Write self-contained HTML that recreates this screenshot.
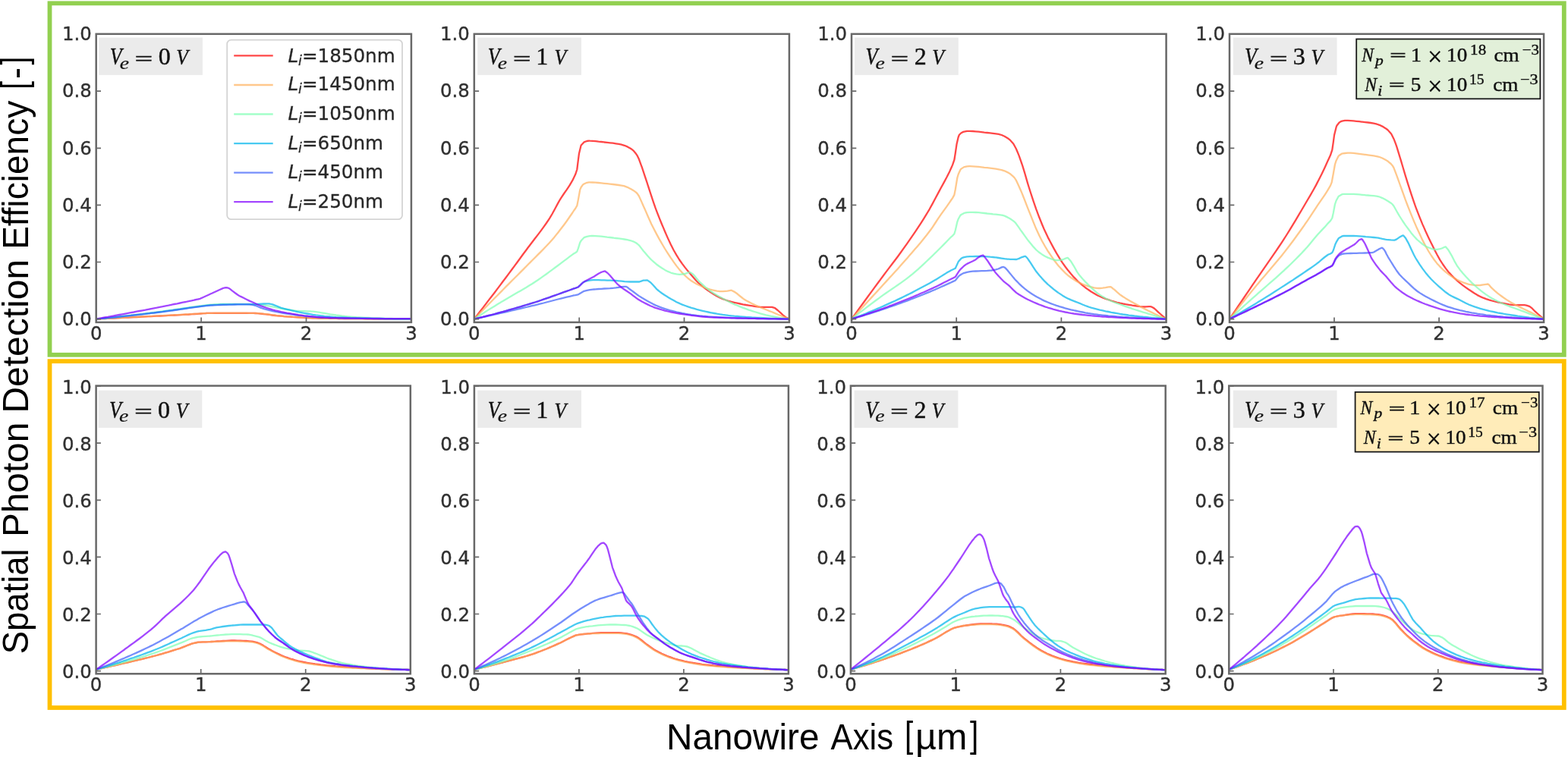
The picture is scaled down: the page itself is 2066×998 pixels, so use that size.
<!DOCTYPE html>
<html lang="en"><head><meta charset="utf-8"><title>Spatial Photon Detection Efficiency</title>
<style>html,body{margin:0;padding:0;background:#fff;}body{width:2066px;height:998px;overflow:hidden;}svg{display:block;}.tk{font-family:"DejaVu Sans","Liberation Sans",sans-serif;font-size:24.4px;fill:#303030;stroke:#3a3a3a;stroke-width:0.4px;}.lg{font-family:"DejaVu Sans","Liberation Sans",sans-serif;font-size:24.6px;fill:#262626;stroke:#3a3a3a;stroke-width:0.35px;}.ttl{font-family:"Liberation Sans","DejaVu Sans",sans-serif;fill:#000;}</style></head><body>
<svg width="2066" height="998" viewBox="0 0 2066 998" role="img" aria-label="Spatial photon detection efficiency along the nanowire axis">
<rect x="0" y="0" width="2066" height="998" fill="#ffffff"/>
<rect x="65.5" y="4.3" width="1995.3" height="463.5" fill="none" stroke="#92d050" stroke-width="5.8"/>
<rect x="65.5" y="476.2" width="1995.3" height="456.8" fill="none" stroke="#ffc000" stroke-width="5.8"/>
<g>
<g fill="none" stroke-width="2.30" stroke-linejoin="round" stroke-opacity="0.72">
<path d="M126.7,420.6L130.5,420.4 134.3,420.2 138.1,420 141.9,419.9 145.7,419.7 149.6,419.5 153.4,419.3 157.2,419.1 161,418.9 164.8,418.7 168.6,418.6 172.4,418.4 176.2,418.2 180,418 183.8,417.8 187.6,417.6 191.5,417.4 195.3,417.2 197.1,417.1 199.1,417.1 202.9,416.9 206.7,416.7 210.5,416.5 214.3,416.3 218.1,416.1 221.9,415.9 225.7,415.7 227.5,415.6 229.5,415.5 233.4,415.3 237.2,415.1 241,414.9 244.8,414.7 248.6,414.5 252.4,414.2 256.2,414 260,413.8 262.7,413.6 263.8,413.5 267.6,413.2 271.4,413 272.7,412.9 275.3,412.9 279.1,412.9 282.9,412.9 286.7,412.9 290.5,412.9 294.3,412.9 298.1,412.9 301.9,412.9 305.7,412.9 306.6,412.9 309.5,412.9 313.3,412.9 317.2,412.9 321,412.9 324.8,412.9 328.6,412.9 332.4,412.9 334.1,412.9 336.2,413 340,413.2 343.8,413.6 347.6,414 349.2,414.1 351.4,414.4 355.3,414.9 359.1,415.5 362.9,416 364.3,416.2 366.7,416.4 370.5,416.7 374.3,417.1 378.1,417.4 381.9,417.6 384.5,417.8 385.7,417.9 389.5,418.1 393.3,418.3 397.2,418.6 401,418.8 404.8,419 408.6,419.1 412.4,419.3 414.6,419.3 416.2,419.4 420,419.5 423.8,419.5 427.6,419.6 431.4,419.7 435.2,419.8 439.1,419.8 442.9,419.9 446.7,420 450.5,420 454.3,420.1 458.1,420.1 461.9,420.2 465.7,420.2 469.5,420.2 472.7,420.2 473.3,420.2 477.1,420.2 481,420.3 484.8,420.3 488.6,420.3 492.4,420.3 496.2,420.3 500,420.3 503.8,420.3 507.6,420.4 511.4,420.4 515.2,420.4 519,420.4 522.9,420.4 526.7,420.4 530.5,420.4 534.3,420.4 538.1,420.4 541.9,420.4" stroke="#ff0000"/>
<path d="M126.7,420.6L130.5,420.4 134.3,420.2 138.1,420 141.9,419.8 145.7,419.6 149.6,419.4 153.4,419.2 157.2,419 161,418.8 164.8,418.6 168.6,418.4 172.4,418.2 176.2,418.1 180,417.9 183.8,417.7 187.6,417.5 191.5,417.3 195.3,417.1 197.1,417 199.1,416.9 202.9,416.7 206.7,416.5 210.5,416.3 214.3,416.2 218.1,416 221.9,415.8 225.7,415.6 227.5,415.5 229.5,415.4 233.4,415.2 237.2,415 241,414.8 244.8,414.5 248.6,414.3 252.4,414.1 256.2,413.9 260,413.6 262.7,413.5 263.8,413.4 267.6,413.1 271.4,412.8 272.7,412.8 275.3,412.8 279.1,412.8 282.9,412.7 286.7,412.7 290.5,412.7 294.3,412.7 298.1,412.7 301.9,412.7 305.7,412.7 306.6,412.7 309.5,412.7 313.3,412.7 317.2,412.7 321,412.7 324.8,412.7 328.6,412.8 332.4,412.8 334.1,412.8 336.2,412.8 340,413.1 343.8,413.4 347.6,413.8 349.2,414 351.4,414.2 355.3,414.8 359.1,415.3 362.9,415.9 364.3,416 366.7,416.3 370.5,416.6 374.3,417 378.1,417.3 381.9,417.5 384.5,417.7 385.7,417.8 389.5,418 393.3,418.3 397.2,418.5 401,418.7 404.8,418.9 408.6,419.1 412.4,419.2 414.6,419.2 416.2,419.3 420,419.4 423.8,419.5 427.6,419.5 431.4,419.6 435.2,419.7 439.1,419.8 442.9,419.8 446.7,419.9 450.5,419.9 454.3,420 458.1,420 461.9,420.1 465.7,420.1 469.5,420.1 472.7,420.1 473.3,420.2 477.1,420.2 481,420.2 484.8,420.2 488.6,420.2 492.4,420.3 496.2,420.3 500,420.3 503.8,420.3 507.6,420.3 511.4,420.4 515.2,420.4 519,420.4 522.9,420.4 526.7,420.4 530.5,420.4 534.3,420.4 538.1,420.4 541.9,420.4" stroke="#ffb360"/>
<path d="M126.7,420.6L130.5,420.2 134.3,419.9 138.1,419.5 141.9,419.1 145.7,418.7 149.6,418.3 153.4,417.9 157.2,417.5 161,417 164.8,416.6 168.6,416.2 172.4,415.7 176.2,415.3 180,414.8 183.8,414.3 187.6,413.9 191.5,413.4 195.3,412.9 197.1,412.7 199.1,412.5 202.9,412 206.7,411.5 210.5,411 214.3,410.4 218.1,409.9 221.9,409.4 225.7,408.8 227.5,408.6 229.5,408.3 233.4,407.7 237.2,407.2 241,406.6 244.8,406.1 248.6,405.5 252.4,404.9 256.2,404.4 260,403.9 262.7,403.5 263.8,403.4 267.6,402.8 271.4,402.3 275.3,401.8 277.8,401.6 279.1,401.6 282.9,401.4 286.7,401.2 290.5,401 294.3,400.9 297.9,400.9 298.1,400.9 301.9,400.9 305.7,400.9 309.5,400.9 313.3,400.9 317.2,400.9 321,400.9 323.2,400.9 324.8,400.9 328.6,401 332.4,401.2 336.2,401.5 340,401.7 341.2,401.8 343.8,402.1 347.6,402.5 351.4,403 354.2,403.4 355.3,403.6 359.1,404.3 362.9,405.1 366.7,405.9 370.5,406.8 374.3,407.4 374.4,407.5 378.1,408 381.9,408.6 385.7,409.1 389.5,409.6 393.3,409.9 394.5,410 397.2,410.1 401,410.2 404.8,410.3 408.6,410.4 409.6,410.5 412.4,410.7 416.2,411.2 419.7,411.7 420,411.7 423.8,412.3 427.6,413 431.4,413.7 434.8,414.3 435.2,414.4 439.1,414.9 442.9,415.5 446.7,416 450.5,416.5 454.3,416.9 455,417 458.1,417.3 461.9,417.6 465.7,417.9 469.5,418.2 473.3,418.4 477.1,418.6 481,418.8 484.8,419 485.2,419 488.6,419.2 492.4,419.3 496.2,419.4 500,419.6 503.8,419.7 507.6,419.8 511.4,419.9 515.2,420 519,420.1 522.9,420.2 526.7,420.3 530.5,420.3 534.3,420.4 538.1,420.4 541.9,420.4" stroke="#80ffb4"/>
<path d="M126.7,420.6L130.5,420.2 134.3,419.9 138.1,419.5 141.9,419.1 145.7,418.8 149.6,418.4 153.4,418 157.2,417.6 161,417.2 164.8,416.7 168.6,416.3 172.4,415.9 176.2,415.4 180,415 183.8,414.6 187.6,414.1 191.5,413.7 195.3,413.2 197.1,413 199.1,412.7 202.9,412.3 206.7,411.8 210.5,411.3 214.3,410.8 218.1,410.2 221.9,409.7 225.7,409.2 227.5,409 229.5,408.7 233.4,408.1 237.2,407.6 241,407 244.8,406.4 248.6,405.9 252.4,405.3 256.2,404.8 260,404.3 262.7,403.9 263.8,403.8 267.6,403.3 271.4,402.8 275.3,402.4 277.8,402.2 279.1,402.1 282.9,401.9 286.7,401.8 290.5,401.6 294.3,401.5 297.9,401.4 298.1,401.4 301.9,401.4 305.7,401.3 309.5,401.2 313.3,401.2 317.2,401.1 321,401.1 323.2,401.1 324.8,401.1 328.6,401.2 332.4,401.2 334.1,401.3 336.2,401.2 340,400.9 343.8,400.6 344.1,400.6 347.6,400.5 351.4,400.4 354.2,400.4 355.3,400.5 359.1,401.4 359.2,401.4 362.9,402.8 366.7,404.4 369.3,405.4 370.5,405.8 374.3,406.9 378.1,407.8 381.9,408.7 384.5,409.3 385.7,409.6 389.5,410.5 393.3,411.3 397.2,412.1 401,412.8 404.6,413.5 404.8,413.5 408.6,414.1 412.4,414.8 416.2,415.4 420,415.9 423.8,416.4 424.8,416.5 427.6,416.8 431.4,417.1 435.2,417.5 439.1,417.8 442.9,418.1 446.7,418.3 450.5,418.5 454.3,418.7 455,418.7 458.1,418.8 461.9,419 465.7,419.1 469.5,419.2 473.3,419.3 477.1,419.4 481,419.5 484.8,419.6 488.6,419.7 492.4,419.8 496.2,419.9 500,420 503.8,420 507.6,420.1 511.4,420.2 515.2,420.2 519,420.3 522.9,420.3 526.7,420.3 530.5,420.4 534.3,420.4 538.1,420.4 541.9,420.4" stroke="#00b5eb"/>
<path d="M126.7,420.6L130.5,420.2 134.3,419.9 138.1,419.5 141.9,419.2 145.7,418.8 149.6,418.4 153.4,418 157.2,417.6 161,417.2 164.8,416.8 168.6,416.4 172.4,416 176.2,415.5 180,415.1 183.8,414.7 187.6,414.3 191.5,413.8 195.3,413.4 197.1,413.2 199.1,412.9 202.9,412.5 206.7,412 210.5,411.5 214.3,411.1 218.1,410.6 221.9,410.1 225.7,409.6 227.5,409.3 229.5,409 233.4,408.5 237.2,407.9 241,407.4 244.8,406.8 248.6,406.2 252.4,405.7 256.2,405.1 260,404.6 262.7,404.3 263.8,404.1 267.6,403.6 271.4,403.2 275.3,402.8 277.8,402.6 279.1,402.5 282.9,402.3 286.7,402.2 290.5,402 294.3,401.9 297.9,401.8 298.1,401.8 301.9,401.7 305.7,401.6 309.5,401.5 313.3,401.4 317.2,401.3 321,401.3 323.2,401.3 324.8,401.3 328.6,401.4 328.8,401.4 332.4,401.9 334.9,402.4 336.2,402.8 340,404.3 343.8,405.9 344.1,406 347.6,407.1 351.4,408.2 354.2,409 355.3,409.2 359.1,410.1 362.9,410.9 366.7,411.6 370.5,412.3 374.3,413 374.4,413 378.1,413.6 381.9,414.2 385.7,414.7 389.5,415.3 393.3,415.8 397.2,416.2 401,416.6 404.6,417 404.8,417 408.6,417.3 412.4,417.7 416.2,418 420,418.3 423.8,418.5 427.6,418.7 431.4,418.9 434.8,419 435.2,419 439.1,419.1 442.9,419.2 446.7,419.3 450.5,419.4 454.3,419.5 458.1,419.5 461.9,419.6 465.7,419.7 469.5,419.8 473.3,419.8 477.1,419.9 481,419.9 484.8,420 488.6,420.1 492.4,420.1 496.2,420.1 500,420.2 503.8,420.2 507.6,420.3 511.4,420.3 515.2,420.3 519,420.3 522.9,420.4 526.7,420.4 530.5,420.4 534.3,420.4 538.1,420.4 541.9,420.4" stroke="#4062fa"/>
<path d="M126.7,420.6L130.5,419.9 134.3,419.2 138.1,418.5 141.9,417.9 145.7,417.2 149.6,416.5 153.4,415.7 157.2,415 161,414.3 164.8,413.6 168.6,412.9 172.4,412.2 176.2,411.5 180,410.7 183.8,410 187.6,409.3 191.5,408.6 195.3,407.8 197.1,407.5 199.1,407.1 202.9,406.3 206.7,405.6 210.5,404.8 214.3,404.1 218.1,403.3 221.9,402.6 225.7,401.8 227.5,401.4 229.5,401 233.4,400.3 237.2,399.5 241,398.7 244.8,398 247.5,397.4 248.6,397.2 252.4,396.4 256.2,395.5 260,394.7 260.9,394.5 262.7,394.2 263.8,393.7 264.5,393.4 267.6,392 271.4,390.3 275.3,388.5 277.8,387.3 279.1,386.8 282.9,385 286.7,383.2 290.5,381.5 291.4,381.1 294.3,379.8 294.9,379.7 297.9,379.1 298.1,379.1 300.8,379.7 301.9,380.2 303.9,381.7 305.7,383.1 308,384.8 309.5,386 313.3,388.8 314.9,389.8 317,390.9 317.2,390.9 321,392.8 324.8,394.7 328.2,396.4 328.6,396.6 332.4,398.3 334.9,399.4 336.2,400 340,401.7 343.8,403.3 344.1,403.4 347.6,404.7 351.4,406 354.2,406.9 355.3,407.2 359.1,408.4 362.9,409.4 364.3,409.7 366.7,410.2 370.5,411.1 374.3,411.8 378.1,412.6 381.9,413.2 384.5,413.7 385.7,413.9 389.5,414.5 393.3,415.2 397.2,415.7 401,416.3 404.6,416.7 404.8,416.7 408.6,417.1 412.4,417.5 416.2,417.9 420,418.2 423.8,418.5 424.8,418.5 427.6,418.7 431.4,418.8 435.2,419 439.1,419.1 442.9,419.2 446.7,419.3 450.5,419.4 454.3,419.5 455,419.5 458.1,419.5 461.9,419.6 465.7,419.6 469.5,419.7 473.3,419.7 477.1,419.8 481,419.8 484.8,419.9 488.6,419.9 492.4,420 496.2,420 500,420 503.8,420.1 507.6,420.1 511.4,420.1 515.2,420.1 519,420.2 522.9,420.2 526.7,420.2 530.5,420.2 534.3,420.2 538.1,420.2 541.9,420.2" stroke="#8000ff"/>
</g>
<path d="M265.1,424.9 v-6.3 M403.5,424.9 v-6.3 M126.7,420.6 h6.3 M126.7,345.5 h6.3 M126.7,270.4 h6.3 M126.7,195.3 h6.3 M126.7,120.2 h6.3 M126.7,45.1 h6.3" stroke="#686868" stroke-width="1.7" fill="none"/>
<rect x="126.7" y="44.8" width="415.2" height="380.1" fill="none" stroke="#686868" stroke-width="2.5"/>
<text class="tk" x="120.8" y="428.8" text-anchor="end">0.0</text>
<text class="tk" x="120.8" y="353.7" text-anchor="end">0.2</text>
<text class="tk" x="120.8" y="278.6" text-anchor="end">0.4</text>
<text class="tk" x="120.8" y="203.5" text-anchor="end">0.6</text>
<text class="tk" x="120.8" y="128.4" text-anchor="end">0.8</text>
<text class="tk" x="120.8" y="53.3" text-anchor="end">1.0</text>
<text class="tk" x="126.7" y="448.0" text-anchor="middle">0</text>
<text class="tk" x="265.1" y="448.0" text-anchor="middle">1</text>
<text class="tk" x="403.5" y="448.0" text-anchor="middle">2</text>
<text class="tk" x="541.9" y="448.0" text-anchor="middle">3</text>
</g>
<g>
<g fill="none" stroke-width="2.30" stroke-linejoin="round" stroke-opacity="0.72">
<path d="M624.8,420.6L628.6,415.7 632.4,410.8 636.2,405.9 640,400.9 643.8,395.9 647.6,391 651.5,386 655.3,380.9 659.1,375.9 661.6,372.5 662.9,370.8 666.7,365.8 670.5,360.6 674.3,355.5 678.1,350.4 681.9,345.2 685.7,340 689.5,334.8 693.3,329.7 695.8,326.3 697.2,324.5 701,319.5 704.8,314.5 708.6,309.6 712.4,304.6 716.2,299.4 720,294 723.8,288.3 724.7,286.9 727.6,282 731.4,275 735.2,267.9 737.8,263.3 739,261.3 742.9,255.5 746.7,250.1 750.5,244.4 754.3,237.9 756.2,234 758.1,230.1 760.3,223.5 761.9,210.6 762.9,202.8 765.5,191.9 765.7,191.6 769.5,187.4 769.5,187.4 773.3,186 776,185.6 777.1,185.7 780.9,185.8 784.7,186.1 788.6,186.6 792.4,187 795.8,187.4 796.2,187.5 800,187.9 803.8,188.3 807.6,188.7 811.4,189.3 815.2,189.9 819,190.7 819.5,190.8 822.8,191.8 826.6,193.4 830.4,195.5 831.9,196.4 834.3,198.3 838.1,202.8 839.8,205.4 841.9,209.8 845.1,218.6 845.7,220.2 849.5,231.6 853,242.2 853.3,243.2 857.1,254.9 860.9,266.4 863.6,274.2 864.7,277.1 868.5,286.9 872.3,296.2 874.1,300.4 876.1,305.2 880,314.1 883.8,322.3 884.7,324.1 887.6,329.7 891.4,336.4 895.2,342.5 895.2,342.5 899,347.9 902.8,352.9 906.6,357.6 908.5,359.8 910.4,362.1 914.2,366.5 918,370.7 921.6,374.2 921.8,374.4 925.7,377.6 929.5,380.6 933.3,383.4 937.1,385.9 937.4,386.1 940.9,388.2 944.7,390.4 948.5,392.4 952.3,394.1 953.1,394.4 956.1,395.5 959.9,396.8 963.7,397.9 967.5,398.8 969.1,399.2 971.4,399.7 975.2,400.5 979,401.3 982.8,402 986.6,402.6 990.1,403.1 990.4,403.2 994.2,403.8 998,404.3 1001.8,404.8 1005.6,405 1005.9,405 1009.4,404.9 1013.2,404.9 1016.4,404.8 1017.1,404.9 1020.4,405.8 1020.9,406 1024.7,409 1026.9,411 1028.5,412.4 1032.3,416 1036.1,418.9 1036.2,418.9 1039.9,420.6" stroke="#ff0000"/>
<path d="M624.8,420.6L628.6,416.7 632.4,412.8 636.2,408.9 640,405 643.8,401.1 647.6,397.2 651.5,393.3 655.3,389.5 659.1,385.6 661.6,383.1 662.9,381.8 666.7,377.9 670.5,374.1 674.3,370.3 678.1,366.5 681.9,362.7 685.7,358.9 689.5,355.1 693.3,351.2 697.2,347.3 698.4,346.1 701,343.5 704.8,339.7 708.6,335.9 712.4,332.1 716.2,328.2 720,324.3 723.8,320.2 727.6,315.9 730,313.2 731.4,311.4 735.2,306.7 739,301.8 742.9,296.7 746.7,291.5 750.5,286 754.3,280.5 756.2,277.5 758.1,275 760.3,271.2 761.9,263.1 764.3,249.9 765.7,246.7 768.1,243.4 769.5,242.5 773.3,240.8 776,240.4 777.1,240.4 780.9,240.5 784.7,240.7 788.6,241 792.4,241.4 796.2,241.8 800,242.2 803.7,242.6 803.8,242.6 807.6,243 811.4,243.5 815.2,244 819,244.6 822.1,245.2 822.8,245.4 826.6,246.8 830.4,248.7 831.9,249.5 834.3,250.9 838.1,253.6 839.8,255.4 841.9,258.5 845.7,266.9 847.7,271.5 849.5,275.4 853.3,284.2 857.1,292.8 858.2,295.2 860.9,300.6 864.7,307.9 868.5,314.9 871.5,320.1 872.3,321.5 876.1,328 880,334.1 883.8,339.9 884.7,341.2 887.6,345.4 891.4,350.6 895.2,355.4 897.8,358.3 899,359.6 902.8,363.5 906.6,367 910.4,369.9 910.9,370.3 914.2,372.3 918,374.4 921.8,376.3 924.2,377.3 925.7,377.9 929.5,379.5 933.3,380.9 937.1,382 937.4,382 940.9,382.8 944.7,383.6 948.5,384.1 950.5,384.2 952.3,384.1 956.1,383.8 958.4,383.6 959.9,383.3 963.7,382.7 963.7,382.7 967.5,384.6 967.7,384.7 971.4,387.3 975.2,390.5 979,393.5 979.6,393.9 982.8,395.9 986.6,398 990.4,400 994.2,401.8 995.3,402.4 998,403.6 1001.8,405.2 1005.6,406.7 1009.4,408.2 1013.2,409.8 1016.4,411 1017.1,411.3 1020.9,412.9 1024.7,414.5 1028.5,416 1032.3,417.6 1032.3,417.6 1036.1,419.1 1039.9,420.6" stroke="#ffb360"/>
<path d="M624.8,420.6L628.6,418.1 632.4,415.7 636.2,413.3 640,410.8 643.8,408.4 647.6,406.1 651.5,403.7 655.3,401.3 659.1,399 661.6,397.4 662.9,396.7 666.7,394.4 670.5,392.2 674.3,390 678.1,387.8 681.9,385.6 685.7,383.4 689.5,381.2 693.3,379 697.2,376.6 701,374.3 703.7,372.5 704.8,371.8 708.6,369.3 712.4,366.6 716.2,363.9 720,361.2 723.8,358.4 727.6,355.6 731.4,352.8 735.2,350 735.2,350 739,347.1 742.9,344.2 746.7,341.3 750.5,338.4 754.3,335.6 756.2,334.2 758.1,333.2 760.3,331.6 761.9,327.4 764.3,319.7 765.7,317.3 769.5,313.2 769.5,313.2 773.3,311.9 777.1,311.2 779.8,311 780.9,311 784.7,311.2 788.6,311.4 792.4,311.7 796.2,312.1 800,312.6 803.8,313 807.6,313.5 808.8,313.7 811.4,314 815.2,314.4 819,314.9 822.8,315.5 826.6,316.2 830.4,317.1 831.9,317.5 834.3,318.3 838.1,320.3 839.8,321.5 841.9,323.3 845.7,328.1 847.7,330.7 849.5,332.7 853.3,337.2 857.1,341.4 858.2,342.5 860.9,344.9 864.7,348.2 868.5,351 871.5,353 872.3,353.5 876.1,355.9 880,357.9 883.8,359.5 884.7,359.8 887.6,360.6 891.4,361.4 895.2,361.8 895.2,361.8 899,361.5 902.8,360.9 903.1,360.9 906.6,359.3 908.5,358.9 910.4,359.6 912.3,360.9 914.2,362.6 918,367.2 921.6,371.4 921.8,371.7 925.7,375.2 929.5,378.6 933.3,381.7 937.1,384.5 937.4,384.7 940.9,387 944.7,389.3 948.5,391.4 952.3,393.5 953.1,393.9 956.1,395.5 959.9,397.5 963.7,399.4 967.5,401.2 969.1,401.8 971.4,402.8 975.2,404.4 979,405.8 982.8,407.2 986.6,408.6 990.1,409.7 990.4,409.8 994.2,411 998,412.2 1001.8,413.3 1005.6,414.3 1009.4,415.3 1013.2,416.2 1016.4,416.8 1017.1,417 1020.9,417.7 1024.7,418.4 1028.5,419.1 1032.3,419.6 1036.1,420.2 1039.9,420.6" stroke="#80ffb4"/>
<path d="M624.8,420.6L628.6,419.7 632.4,418.8 636.2,417.9 640,416.9 643.8,415.9 647.6,415 651.5,414 655.3,412.9 659.1,411.9 662.9,410.9 666.7,409.8 670.5,408.7 674.3,407.6 678.1,406.5 681.9,405.4 685.7,404.3 689.5,403.1 693.3,402 697.2,400.8 701,399.7 703.7,398.8 704.8,398.5 708.6,397.3 712.4,396 716.2,394.7 720,393.4 723.8,392.1 727.6,390.7 731.4,389.3 735.2,388 739,386.6 742.9,385.2 746.7,383.8 750.5,382.5 754.3,381.1 756.2,380.4 758.1,379.8 761.6,378.5 761.9,378.4 765.7,374.7 768.1,372.5 769.5,371.7 772.2,370.7 773.3,370.4 777.1,369.6 780.9,369.2 782.5,369.2 784.7,369.2 788.6,369.2 792.4,369.3 796.2,369.4 800,369.6 803.8,369.7 807.6,369.9 808.8,369.9 811.4,370 815.2,370.3 819,370.7 822.8,371.1 826.6,371.3 830.4,371.5 831.9,371.5 834.3,371.5 838.1,371.5 841.9,371.5 842.5,371.5 845.7,370.3 847.7,369.7 849.5,369.6 853,369.5 853.3,369.6 857,372.2 857.1,372.3 860.9,376.2 864.7,380.6 866.2,382 868.5,383.9 872.3,386.7 876.1,389.3 879.4,391.3 880,391.7 883.8,394 887.6,396.1 891.4,398.2 895.2,399.9 895.2,400 899,401.6 902.8,403 906.6,404.4 910.4,405.6 910.9,405.8 914.2,406.7 918,407.8 921.8,408.8 925.7,409.8 929.5,410.7 933.3,411.5 937.1,412.3 937.4,412.3 940.9,413 944.7,413.7 948.5,414.3 952.3,414.9 956.1,415.4 959.9,415.9 963.7,416.3 963.7,416.3 967.5,416.7 971.4,417 975.2,417.3 979,417.6 982.8,417.9 986.6,418.1 990.1,418.3 990.4,418.4 994.2,418.6 998,418.8 1001.8,419 1005.6,419.2 1009.4,419.4 1013.2,419.6 1017.1,419.8 1020.9,419.9 1024.7,420.1 1028.5,420.2 1032.3,420.4 1036.1,420.5 1039.9,420.6" stroke="#00b5eb"/>
<path d="M624.8,420.6L628.6,419.8 632.4,418.9 636.2,418.1 640,417.3 643.8,416.4 647.6,415.6 651.5,414.7 655.3,413.9 659.1,413 662.9,412.1 666.7,411.3 670.5,410.4 674.3,409.5 678.1,408.6 681.9,407.7 685.7,406.8 689.5,405.9 693.3,405 697.2,404.1 701,403.2 703.7,402.6 704.8,402.3 708.6,401.4 712.4,400.4 716.2,399.5 720,398.5 723.8,397.5 727.6,396.5 731.4,395.5 735.2,394.5 739,393.6 742.9,392.6 746.7,391.7 750.5,390.8 754.3,389.9 756.2,389.4 758.1,389.1 761.6,388.3 761.9,388.2 765.7,386 769.5,383.8 769.5,383.8 773.3,382.9 777.1,382.2 780.9,381.7 782.5,381.5 784.7,381.3 788.6,381 792.4,380.8 796.2,380.5 800,380.3 803.8,380.1 807.6,379.8 808.8,379.7 811.4,379.4 815.2,378.8 819,378.2 822.8,377.8 824.7,377.8 826.6,378.7 828.6,380.4 830.4,381.7 832.4,383.1 834.3,384.5 838.1,387.4 839.8,388.7 841.9,390.1 845.7,392.5 849.5,394.7 850.3,395.2 853.3,396.9 857.1,399.1 860.9,401.1 863.6,402.4 864.7,402.8 868.5,404.4 872.3,405.8 876.1,407.2 880,408.4 883.8,409.5 884.7,409.7 887.6,410.4 891.4,411.4 895.2,412.2 899,413 902.8,413.7 906.6,414.3 910.4,414.9 910.9,415 914.2,415.4 918,415.9 921.8,416.3 925.7,416.7 929.5,417 933.3,417.3 937.1,417.6 937.4,417.6 940.9,417.8 944.7,418 948.5,418.2 952.3,418.4 956.1,418.6 959.9,418.8 963.7,419 967.5,419.1 971.4,419.3 975.2,419.4 979,419.6 982.8,419.7 986.6,419.8 990.1,419.8 990.4,419.9 994.2,419.9 998,420 1001.8,420.1 1005.6,420.2 1009.4,420.3 1013.2,420.3 1017.1,420.4 1020.9,420.4 1024.7,420.5 1028.5,420.5 1032.3,420.6 1036.1,420.6 1039.9,420.6" stroke="#4062fa"/>
<path d="M624.8,420.6L628.6,419.7 632.4,418.8 636.2,417.9 640,416.9 643.8,415.9 647.6,415 651.5,414 655.3,412.9 659.1,411.9 662.9,410.9 666.7,409.8 670.5,408.7 674.3,407.6 678.1,406.5 681.9,405.4 685.7,404.3 689.5,403.1 693.3,402 697.2,400.8 701,399.7 703.7,398.8 704.8,398.5 708.6,397.3 712.4,396 716.2,394.7 720,393.4 723.8,392.1 727.6,390.7 731.4,389.3 735.2,388 739,386.6 742.9,385.2 746.7,383.8 750.5,382.5 754.3,381.1 756.2,380.4 758.1,379.8 761.6,378.5 761.9,378.4 765.7,374.8 768.1,372.5 769.5,371.6 773.3,369.4 777.1,367.4 780.9,365.5 782.5,364.7 784.7,363.3 788.6,360.8 792.4,358.8 793.2,358.5 796.2,357.6 797.1,357.5 800,359.5 801.1,360.5 803.8,363.2 807.6,367.7 811.4,372.3 814.2,375.2 815.2,376 819,379.1 822.8,381.8 826.6,384.3 830.4,386.9 832.4,388.3 834.3,389.8 838.1,392.7 839.8,393.9 841.9,395.2 845.7,397.5 849.5,399.5 850.3,399.9 853.3,401.4 857.1,403.2 860.9,404.8 863.6,405.8 864.7,406.1 868.5,407.4 872.3,408.5 876.1,409.6 880,410.5 883.8,411.4 884.7,411.6 887.6,412.2 891.4,412.9 895.2,413.5 899,414.2 902.8,414.7 906.6,415.2 910.4,415.7 910.9,415.8 914.2,416.2 918,416.6 921.8,417.1 925.7,417.5 929.5,417.8 933.3,418.1 937.1,418.3 937.4,418.3 940.9,418.5 944.7,418.7 948.5,418.8 952.3,418.9 956.1,419.1 959.9,419.2 963.7,419.3 967.5,419.4 971.4,419.5 975.2,419.5 979,419.6 982.8,419.7 986.6,419.8 990.1,419.8 990.4,419.9 994.2,419.9 998,420 1001.8,420.1 1005.6,420.1 1009.4,420.2 1013.2,420.3 1017.1,420.3 1020.9,420.4 1024.7,420.4 1028.5,420.5 1032.3,420.5 1036.1,420.6 1039.9,420.6" stroke="#8000ff"/>
</g>
<path d="M763.2,424.9 v-6.3 M901.5,424.9 v-6.3 M624.8,420.6 h6.3 M624.8,345.5 h6.3 M624.8,270.4 h6.3 M624.8,195.3 h6.3 M624.8,120.2 h6.3 M624.8,45.1 h6.3" stroke="#686868" stroke-width="1.7" fill="none"/>
<rect x="624.8" y="44.8" width="415.1" height="380.1" fill="none" stroke="#686868" stroke-width="2.5"/>
<text class="tk" x="618.9" y="428.8" text-anchor="end">0.0</text>
<text class="tk" x="618.9" y="353.7" text-anchor="end">0.2</text>
<text class="tk" x="618.9" y="278.6" text-anchor="end">0.4</text>
<text class="tk" x="618.9" y="203.5" text-anchor="end">0.6</text>
<text class="tk" x="618.9" y="128.4" text-anchor="end">0.8</text>
<text class="tk" x="618.9" y="53.3" text-anchor="end">1.0</text>
<text class="tk" x="624.8" y="448.0" text-anchor="middle">0</text>
<text class="tk" x="763.2" y="448.0" text-anchor="middle">1</text>
<text class="tk" x="901.5" y="448.0" text-anchor="middle">2</text>
<text class="tk" x="1039.9" y="448.0" text-anchor="middle">3</text>
</g>
<g>
<g fill="none" stroke-width="2.30" stroke-linejoin="round" stroke-opacity="0.72">
<path d="M1122,420.6L1125.8,415.4 1129.6,410.1 1133.4,404.9 1137.2,399.7 1141,394.5 1144.8,389.3 1148.6,384.1 1152.4,378.9 1156.2,373.7 1158.8,370.3 1160,368.6 1163.8,363.5 1167.6,358.4 1171.4,353.4 1175.3,348.3 1179.1,343.3 1182.9,338.2 1186.7,333 1190.5,327.7 1193,324.1 1194.3,322.3 1198.1,316.9 1201.9,311.4 1205.7,305.9 1209.5,300.2 1213.3,294.4 1217.1,288.4 1220.9,282.2 1221.9,280.5 1224.7,275.8 1228.5,268.9 1232.3,261.8 1236.1,254.6 1237.7,251.6 1239.9,247.5 1243.7,240.6 1247.5,233.5 1251.3,225.9 1253.4,221.2 1255.1,217.4 1257.4,210.7 1258.9,201.2 1260.6,189.7 1262.7,180.7 1263.9,177.8 1266.5,175.2 1269.2,173.9 1270.3,173.6 1274.1,172.9 1275.8,172.8 1278,172.8 1281.8,173 1285.6,173.3 1289.4,173.7 1293.2,174.1 1297,174.6 1300.8,175 1300.8,175 1304.6,175.4 1308.4,175.8 1312.2,176.3 1316,176.9 1316.6,177.1 1319.8,178 1323.6,179.7 1327.4,182 1329,183.1 1331.2,184.9 1335,189.2 1335.4,189.7 1338.8,196 1340.6,200.2 1342.6,205.1 1346.4,216 1347.3,218.6 1350.2,228.2 1354,241.4 1355.1,245 1357.8,253.5 1361.6,265.1 1365.4,276.1 1365.6,276.6 1369.2,286.3 1373,295.8 1376.1,303.1 1376.8,304.6 1380.6,312.6 1384.5,320 1386.7,324.1 1388.3,327.1 1392.1,333.9 1395.9,340.2 1397.3,342.5 1399.7,346.1 1403.5,351.5 1407.3,356.5 1407.8,357.1 1411.1,361.1 1414.9,365.4 1418.7,369.4 1420.9,371.5 1422.5,372.9 1426.3,376.2 1430.1,379.2 1433.9,381.9 1434.1,382 1437.7,384.5 1441.5,386.8 1445.3,389 1447.3,390 1449.1,390.8 1452.9,392.4 1456.7,393.9 1460.5,395.2 1460.5,395.2 1464.3,396.5 1468.1,397.7 1471.9,398.8 1473.6,399.2 1475.7,399.7 1479.5,400.5 1483.3,401.2 1487.2,401.8 1491,402.4 1492,402.6 1494.8,403 1498.6,403.6 1502.4,404.1 1506.2,404.4 1507.9,404.5 1510,404.4 1513.8,404.2 1515.7,404.2 1517.6,404.7 1519.6,405.8 1521.4,407 1525.2,410.6 1526.2,411.6 1529,414 1532.8,417.3 1536.6,420.6" stroke="#ff0000"/>
<path d="M1122,420.6L1125.8,416.5 1129.6,412.4 1133.4,408.3 1137.2,404.2 1141,400.1 1144.8,396 1148.6,391.9 1152.4,387.7 1156.2,383.6 1158.8,380.8 1160,379.4 1163.8,375.2 1167.6,371.1 1171.4,366.9 1175.3,362.8 1179.1,358.6 1182.9,354.4 1186.7,350.1 1190.5,345.8 1194.3,341.5 1195.7,339.9 1198.1,337.1 1201.9,332.7 1205.7,328.3 1209.5,323.9 1213.3,319.4 1217.1,314.7 1220.9,310 1224.7,305 1227.2,301.7 1228.5,299.8 1232.3,294 1236.1,288.1 1237.7,285.8 1239.9,282.6 1243.7,277.3 1247.5,272.1 1251.3,266.6 1253.4,263.5 1255.1,261.1 1257.4,256.9 1258.9,249.3 1261.3,234.5 1262.7,229.7 1265.3,224 1266.5,222.6 1270.3,220.1 1270.6,220.1 1274.1,219.4 1277.2,219.2 1278,219.2 1281.8,219.3 1285.6,219.6 1289.4,219.9 1293.2,220.3 1297,220.8 1300.8,221.2 1300.8,221.2 1304.6,221.6 1308.4,222.1 1312.2,222.6 1316,223.3 1319.2,224 1319.8,224.1 1323.6,225.3 1327.4,227.1 1329,228 1331.2,229.3 1335,232.6 1336.8,234.5 1338.8,237.6 1342.6,245.7 1344.6,250.3 1346.4,254.4 1350.2,264 1354,273.8 1355.1,276.6 1357.8,283.3 1361.6,292.9 1365.4,302.1 1368.3,308.3 1369.2,310.3 1373,317.7 1376.8,324.5 1380.6,330.8 1381.4,332 1384.5,336.7 1388.3,342.2 1392.1,347.2 1394.7,350.4 1395.9,351.8 1399.7,355.9 1403.5,359.8 1407.3,363.1 1407.8,363.5 1411.1,366 1414.9,368.6 1418.7,370.9 1420.9,372 1422.5,372.8 1426.3,374.5 1430.1,376 1433.9,377.3 1434.1,377.3 1437.7,378.3 1441.5,379.3 1445.3,379.9 1447.3,380 1449.1,380 1452.9,379.6 1456.7,379.1 1457.8,378.9 1460.5,378.4 1463.1,378.2 1464.3,378.6 1466.9,380.8 1468.1,381.7 1471.9,385.1 1475.7,388.3 1476.2,388.7 1479.5,391 1483.3,393.4 1487.2,395.7 1491,397.9 1492,398.4 1494.8,400 1498.6,402.1 1502.4,404.2 1506.2,406.2 1510,408.1 1513.1,409.7 1513.8,410 1517.6,411.9 1521.4,413.8 1525.2,415.5 1528.9,417.2 1529,417.3 1532.8,419 1536.6,420.6" stroke="#ffb360"/>
<path d="M1122,420.6L1125.8,417.6 1129.6,414.7 1133.4,411.7 1137.2,408.8 1141,405.9 1144.8,403 1148.6,400.1 1152.4,397.3 1156.2,394.5 1158.8,392.6 1160,391.7 1163.8,388.9 1167.6,386.2 1171.4,383.6 1175.3,381 1179.1,378.4 1182.9,375.8 1186.7,373.1 1190.5,370.4 1194.3,367.6 1198.1,364.7 1200.9,362.4 1201.9,361.6 1205.7,358.4 1209.5,355.1 1213.3,351.7 1217.1,348.1 1220.9,344.5 1224.7,340.9 1228.5,337.2 1232.3,333.5 1232.6,333.3 1236.1,329.8 1239.9,326 1243.7,322.1 1247.5,318.2 1251.3,314.3 1253.4,312.2 1255.1,310.8 1257.4,308.3 1258.9,303.2 1261.3,292.6 1262.7,288.7 1265.3,284 1266.5,283 1270.3,280.9 1271.9,280.5 1274.1,280.2 1278,279.8 1279.8,279.8 1281.8,279.8 1285.6,280 1289.4,280.2 1293.2,280.6 1297,281 1300.8,281.5 1304.6,281.9 1306.1,282 1308.4,282.3 1312.2,282.6 1316,283.1 1319.8,283.6 1321.8,284 1323.6,284.6 1327.4,286.4 1329,287.3 1331.2,288.5 1335,291.1 1336.8,292.6 1338.8,294.8 1342.6,300.2 1344.6,303.1 1346.4,305.5 1350.2,310.9 1354,316.1 1355.1,317.5 1357.8,320.8 1361.6,325.4 1365.4,329.5 1368.3,332 1369.2,332.7 1373,335.4 1376.8,337.7 1380.6,339.6 1381.4,339.9 1384.5,341.1 1388.3,342.5 1392,343.1 1392.1,343.1 1395.9,342.9 1399.7,342.5 1399.9,342.5 1403.5,340.9 1406.4,339.9 1407.3,340.2 1410.4,343.8 1411.1,344.7 1414.9,350.8 1418.7,357.6 1420.9,361 1422.5,363 1426.3,367.5 1430.1,371.6 1433.9,375.4 1434.1,375.5 1437.7,379.1 1441.5,382.6 1445.3,385.8 1447.3,387.3 1449.1,388.6 1452.9,391.1 1456.7,393.3 1460.5,395.2 1460.5,395.3 1464.3,397 1468.1,398.5 1471.9,399.9 1473.6,400.5 1475.7,401.3 1479.5,402.7 1483.3,404.1 1487.2,405.4 1491,406.7 1492,407.1 1494.8,408 1498.6,409.2 1502.4,410.4 1506.2,411.6 1510,412.7 1513.1,413.7 1513.8,413.9 1517.6,415 1521.4,416.1 1525.2,417.3 1529,418.4 1532.8,419.5 1536.6,420.6" stroke="#80ffb4"/>
<path d="M1122,420.6L1125.8,419.2 1129.6,417.7 1133.4,416.2 1137.2,414.7 1141,413.2 1144.8,411.6 1148.6,410.1 1152.4,408.5 1156.2,406.9 1158.8,405.8 1160,405.2 1163.8,403.6 1167.6,401.9 1171.4,400.1 1175.3,398.4 1179.1,396.7 1182.9,394.9 1186.7,393.1 1190.5,391.2 1194.3,389.4 1198.1,387.5 1200.9,386.1 1201.9,385.6 1205.7,383.6 1209.5,381.6 1213.3,379.6 1217.1,377.6 1220.9,375.5 1224.7,373.4 1228.5,371.2 1232.3,369 1232.6,368.9 1236.1,366.8 1239.9,364.4 1243.7,362 1247.5,359.6 1251.3,357.4 1253.4,356.2 1255.1,355.5 1258.7,353.8 1258.9,353.5 1262.7,345.1 1262.7,345.1 1266.5,340.7 1267.9,339.9 1270.3,339.1 1274.1,338.4 1274.6,338.4 1278,338.2 1281.8,338.1 1285.6,338 1289.4,338 1293,338 1293.2,338 1297,338.1 1300.8,338.3 1304.6,338.7 1308.4,339 1311.3,339.3 1312.2,339.4 1316,340 1319.8,340.6 1323.6,341.2 1327.4,341.7 1329,341.7 1331.2,341.8 1335,341.9 1338.8,342 1339.4,342 1342.6,340.9 1345.9,339.3 1346.4,339.1 1350.2,337.8 1351.1,337.8 1354,340.8 1355.1,342.5 1357.8,346.4 1361.6,352.4 1365.4,358.1 1365.6,358.3 1369.2,362.8 1373,367.1 1376.8,371.2 1380.6,374.8 1381.4,375.5 1384.5,378.2 1388.3,381.4 1392.1,384.2 1394.7,386.1 1395.9,386.9 1399.7,389.4 1403.5,391.7 1407.3,393.7 1407.8,393.9 1411.1,395.4 1414.9,396.9 1418.7,398.3 1420.9,399.2 1422.5,399.8 1426.3,401.5 1430.1,403 1433.9,404.4 1434.1,404.5 1437.7,405.6 1441.5,406.6 1445.3,407.6 1449.1,408.6 1452.9,409.4 1456.7,410.3 1460.5,411 1460.5,411 1464.3,411.8 1468.1,412.5 1471.9,413.2 1475.7,413.9 1479.5,414.5 1483.3,415 1486.8,415.5 1487.2,415.6 1491,416 1494.8,416.5 1498.6,416.9 1502.4,417.3 1506.2,417.7 1510,418 1513.1,418.3 1513.8,418.4 1517.6,418.8 1521.4,419.2 1525.2,419.5 1529,419.9 1532.8,420.3 1536.6,420.6" stroke="#00b5eb"/>
<path d="M1122,420.6L1125.8,419.5 1129.6,418.4 1133.4,417.3 1137.2,416.1 1141,415 1144.8,413.8 1148.6,412.6 1152.4,411.4 1156.2,410.2 1158.8,409.3 1160,408.9 1163.8,407.6 1167.6,406.4 1171.4,405 1175.3,403.7 1179.1,402.4 1182.9,401 1186.7,399.6 1190.5,398.2 1194.3,396.8 1198.1,395.4 1200.9,394.3 1201.9,393.9 1205.7,392.5 1209.5,391 1213.3,389.5 1217.1,388 1220.9,386.4 1224.7,384.9 1228.5,383.3 1232.3,381.7 1232.6,381.5 1236.1,380 1239.9,378.3 1243.7,376.6 1247.5,374.9 1251.3,373.1 1253.4,372.2 1255.1,371.4 1258.7,369.7 1258.9,369.5 1262.7,364.7 1263.9,363.5 1266.5,361.7 1270.3,359.8 1270.6,359.8 1274.1,358.8 1278,358.1 1279.8,357.9 1281.8,357.7 1285.6,357.5 1289.4,357.3 1293.2,357.2 1297,357.1 1300.8,356.9 1304.6,356.6 1306.1,356.5 1308.4,356.2 1312.2,355.3 1315.2,354.5 1316,354.2 1319.8,352.4 1321.8,351.9 1323.6,352.5 1325,353.6 1327.4,356.2 1329,358.3 1331.2,360.9 1335,365.6 1336.8,367.7 1338.8,369.9 1342.6,373.8 1346.4,377.4 1347.3,378.2 1350.2,380.6 1354,383.6 1357.8,386.3 1360.4,387.9 1361.6,388.7 1365.4,391 1369.2,393.1 1373,395.1 1376.1,396.6 1376.8,396.9 1380.6,398.5 1384.5,400.1 1388.3,401.5 1392.1,402.9 1394.7,403.7 1395.9,404.1 1399.7,405.2 1403.5,406.3 1407.3,407.3 1411.1,408.3 1414.9,409.2 1418.7,410 1420.9,410.5 1422.5,410.8 1426.3,411.5 1430.1,412.3 1433.9,413 1437.7,413.6 1441.5,414.2 1445.3,414.7 1447.3,415 1449.1,415.2 1452.9,415.6 1456.7,416 1460.5,416.4 1464.3,416.7 1468.1,417 1471.9,417.3 1475.7,417.6 1479.5,417.9 1483.3,418.1 1486.8,418.3 1487.2,418.4 1491,418.6 1494.8,418.8 1498.6,419 1502.4,419.2 1506.2,419.4 1510,419.6 1513.8,419.8 1517.6,420 1521.4,420.1 1525.2,420.3 1529,420.4 1532.8,420.5 1536.6,420.6" stroke="#4062fa"/>
<path d="M1122,420.6L1125.8,419.4 1129.6,418.2 1133.4,417 1137.2,415.8 1141,414.5 1144.8,413.2 1148.6,411.9 1152.4,410.6 1156.2,409.3 1158.8,408.4 1160,407.9 1163.8,406.6 1167.6,405.2 1171.4,403.7 1175.3,402.3 1179.1,400.8 1182.9,399.3 1186.7,397.8 1190.5,396.3 1194.3,394.8 1198.1,393.2 1200.9,392.1 1201.9,391.7 1205.7,390.1 1209.5,388.5 1213.3,386.8 1217.1,385.2 1220.9,383.5 1224.7,381.8 1228.5,380.1 1232.3,378.3 1232.6,378.2 1236.1,376.5 1239.9,374.6 1243.7,372.6 1247.5,370.7 1251.3,368.7 1253.4,367.7 1255.1,366.9 1258.7,365 1258.9,364.8 1262.7,358.9 1263.9,357.1 1266.5,354.1 1270.3,350.5 1271.9,349.3 1274.1,347.9 1278,346 1281.8,344.3 1285.1,342.5 1285.6,342.2 1289.4,339.2 1291.6,337.8 1293.2,337 1295,336.5 1297,338.2 1298.2,339.9 1300.8,343.2 1304.6,349 1308.4,354.8 1311.3,358.9 1312.2,359.9 1316,364.3 1319.8,368.3 1321.8,370.3 1323.6,371.8 1327.4,374.8 1329,376.1 1331.2,378.2 1335,382.1 1338.8,385.6 1339.4,386.1 1342.6,388.3 1346.4,390.6 1350.2,392.7 1354,394.7 1355.1,395.2 1357.8,396.5 1361.6,398.3 1365.4,399.9 1368.3,401.1 1369.2,401.5 1373,402.9 1376.8,404.3 1380.6,405.5 1381.4,405.8 1384.5,406.7 1388.3,407.8 1392.1,408.8 1395.9,409.8 1399.7,410.7 1403.5,411.5 1407.3,412.2 1407.8,412.3 1411.1,412.9 1414.9,413.5 1418.7,414 1422.5,414.5 1426.3,415 1430.1,415.4 1433.9,415.8 1434.1,415.8 1437.7,416.2 1441.5,416.5 1445.3,416.8 1449.1,417.2 1452.9,417.5 1456.7,417.7 1460.5,418 1460.5,418 1464.3,418.2 1468.1,418.4 1471.9,418.7 1475.7,418.9 1479.5,419.1 1483.3,419.2 1487.2,419.4 1491,419.6 1494.8,419.7 1498.6,419.8 1499.3,419.8 1502.4,419.9 1506.2,420 1510,420.1 1513.8,420.2 1517.6,420.3 1521.4,420.4 1525.2,420.5 1529,420.5 1532.8,420.6 1536.6,420.6" stroke="#8000ff"/>
</g>
<path d="M1260.2,424.9 v-6.3 M1398.4,424.9 v-6.3 M1122.0,420.6 h6.3 M1122.0,345.5 h6.3 M1122.0,270.4 h6.3 M1122.0,195.3 h6.3 M1122.0,120.2 h6.3 M1122.0,45.1 h6.3" stroke="#686868" stroke-width="1.7" fill="none"/>
<rect x="1122.0" y="44.8" width="414.6" height="380.1" fill="none" stroke="#686868" stroke-width="2.5"/>
<text class="tk" x="1116.1" y="428.8" text-anchor="end">0.0</text>
<text class="tk" x="1116.1" y="353.7" text-anchor="end">0.2</text>
<text class="tk" x="1116.1" y="278.6" text-anchor="end">0.4</text>
<text class="tk" x="1116.1" y="203.5" text-anchor="end">0.6</text>
<text class="tk" x="1116.1" y="128.4" text-anchor="end">0.8</text>
<text class="tk" x="1116.1" y="53.3" text-anchor="end">1.0</text>
<text class="tk" x="1122.0" y="448.0" text-anchor="middle">0</text>
<text class="tk" x="1260.2" y="448.0" text-anchor="middle">1</text>
<text class="tk" x="1398.4" y="448.0" text-anchor="middle">2</text>
<text class="tk" x="1536.6" y="448.0" text-anchor="middle">3</text>
</g>
<g>
<g fill="none" stroke-width="2.30" stroke-linejoin="round" stroke-opacity="0.72">
<path d="M1620,420.6L1623.8,415 1627.6,409.4 1631.4,403.7 1635.2,398.1 1639,392.5 1642.8,386.9 1646.6,381.3 1650.4,375.7 1654.2,370.1 1655.9,367.7 1658,364.6 1661.8,359.1 1665.6,353.6 1669.4,348.1 1673.2,342.7 1677,337.2 1680.8,331.7 1684.6,326 1688.4,320.3 1691.8,315.1 1692.2,314.5 1696,308.5 1699.8,302.3 1703.6,296.1 1707.4,289.8 1711.2,283.4 1715,277 1718.8,270.5 1719.4,269.5 1722.6,264 1726.4,257.6 1730.2,251 1734,244.1 1735.9,240.4 1737.8,236.8 1741.6,229.2 1745.4,221.2 1749.2,212.8 1749.8,211.4 1753,204.6 1755.3,197.6 1756.8,187.3 1758,178.3 1760.6,167.7 1761.3,165.8 1764.4,161.7 1766.3,160.4 1768.2,159.7 1772,158.9 1773.2,158.9 1775.8,158.9 1779.6,159.1 1783.4,159.4 1787.2,159.8 1791,160.2 1793.9,160.6 1794.8,160.7 1798.6,161.1 1802.4,161.5 1806.2,162 1810,162.7 1813.2,163.4 1813.8,163.5 1817.6,164.8 1821.4,166.6 1825.2,168.9 1826.8,170 1828.9,171.7 1832.7,176 1833.4,176.9 1836.5,183.2 1838.9,189.3 1840.3,193.3 1844.1,205.8 1845.8,211.4 1847.9,218.5 1851.7,231.4 1854.1,239.1 1855.5,243.6 1859.3,255.4 1863.1,266.7 1865.1,272.3 1866.9,277.1 1870.7,286.9 1874.5,296.1 1876.2,299.9 1878.3,304.8 1882.1,312.9 1885.9,320.7 1887.2,323.3 1889.7,328.4 1893.5,335.8 1897.3,342.6 1898.3,344.1 1901.1,348.5 1904.9,353.9 1908.7,358.7 1909.3,359.4 1912.5,362.9 1916.3,366.7 1920.1,370.2 1920.4,370.4 1923.9,373.4 1927.7,376.3 1931.5,379.1 1935.3,381.8 1936.9,382.8 1939.1,384.3 1942.9,386.8 1946.7,389.1 1950.5,391 1950.7,391.1 1954.3,392.7 1958.1,394.1 1961.9,395.4 1964.5,396.2 1965.7,396.5 1969.5,397.5 1973.3,398.4 1977.1,399.2 1980.9,399.9 1981.1,399.9 1984.7,400.6 1988.5,401.3 1992.3,401.8 1996.1,402.2 1997.7,402.2 1999.9,402.2 2003.7,402.2 2007.5,402.2 2008.7,402.2 2011.3,402.6 2015.1,403.9 2015.6,404.1 2018.9,406.7 2022.5,410.5 2022.7,410.6 2026.5,414 2030.3,417.3 2034.1,420.6" stroke="#ff0000"/>
<path d="M1620,420.6L1623.8,415.8 1627.6,411 1631.4,406.2 1635.2,401.4 1639,396.7 1642.8,392 1646.6,387.3 1650.4,382.6 1654.2,378 1655.9,375.9 1658,373.4 1661.8,368.8 1665.6,364.4 1669.4,359.9 1673.2,355.5 1677,351.1 1680.8,346.6 1684.6,342 1688.4,337.4 1691.8,333.1 1692.2,332.6 1696,327.7 1699.8,322.7 1703.6,317.7 1707.4,312.5 1711.2,307.3 1715,302 1718.8,296.6 1719.4,295.7 1722.6,291.1 1726.4,285.4 1730.2,279.6 1734,273.8 1735.9,270.9 1737.8,268.2 1741.6,262.7 1745.4,257.2 1749.2,251.1 1749.8,250.1 1753,244.6 1754.7,240.4 1756.8,229 1758.9,217 1760.6,211.7 1763.6,205.8 1764.4,205 1768.2,202.5 1769.1,202.3 1772,202 1775.8,201.7 1777.4,201.7 1779.6,201.7 1783.4,201.9 1787.2,202.3 1791,202.8 1794.8,203.3 1798.6,203.8 1799.4,203.9 1802.4,204.3 1806.2,204.8 1810,205.4 1813.8,206.1 1816,206.6 1817.6,207 1821.4,208.5 1825.2,210.5 1826.8,211.4 1828.9,212.8 1832.7,216 1834.8,218.4 1836.5,221.4 1840.3,231.4 1843.1,239.1 1844.1,242 1847.9,252.5 1851.7,263.2 1854.1,269.5 1855.5,273.1 1859.3,282.7 1863.1,291.9 1866.9,300.6 1867.9,302.7 1870.7,308.8 1874.5,316.9 1878.3,324.3 1881.7,330.3 1882.1,331 1885.9,337 1889.7,342.5 1893.5,347.4 1895.5,349.6 1897.3,351.6 1901.1,355.3 1904.9,358.7 1908.7,361.7 1909.3,362.1 1912.5,364.4 1916.3,366.8 1920.1,369 1923.1,370.4 1923.9,370.7 1927.7,372.3 1931.5,373.7 1935.3,374.8 1936.9,375.1 1939.1,375.4 1942.9,375.9 1946.7,376.2 1948,376.2 1950.5,376 1954.3,375.4 1956.2,375.1 1958.1,374.8 1960.4,374.5 1961.9,375.5 1964.5,378.7 1965.7,379.8 1969.5,383.3 1973.3,386.6 1975.6,388.4 1977.1,389.5 1980.9,392.3 1984.7,394.9 1988.5,397.3 1992.1,399.4 1992.3,399.5 1996.1,401.6 1999.9,403.5 2003.7,405.4 2007.5,407.2 2011.3,409 2014.2,410.5 2015.1,410.9 2018.9,412.8 2022.7,414.8 2026.5,416.7 2030.3,418.6 2034.1,420.6" stroke="#ffb360"/>
<path d="M1620,420.6L1623.8,417.2 1627.6,413.7 1631.4,410.3 1635.2,406.9 1639,403.4 1642.8,400 1646.6,396.6 1650.4,393.2 1654.2,389.8 1655.9,388.3 1658,386.4 1661.8,383.1 1665.6,379.8 1669.4,376.5 1673.2,373.2 1677,369.9 1680.8,366.6 1684.6,363.2 1688.4,359.7 1691.8,356.6 1692.2,356.2 1696,352.6 1699.8,349 1703.6,345.3 1707.4,341.5 1711.2,337.6 1715,333.7 1718.8,329.6 1719.4,329 1722.6,325.4 1726.4,320.9 1730.2,316.3 1734,311.8 1735.9,309.6 1737.8,307.5 1741.6,303.4 1745.4,299.4 1749.2,295.1 1749.8,294.4 1753,291.1 1755.3,287.5 1756.8,280.8 1758.9,269.5 1760.6,264.5 1763.6,259 1764.4,258.4 1768.2,256.2 1770.5,255.8 1772,255.8 1775.8,255.8 1779.6,255.8 1780.1,255.8 1783.4,255.8 1787.2,256.1 1791,256.4 1794.8,256.8 1798.6,257.2 1799.4,257.3 1802.4,257.5 1806.2,257.8 1810,258.2 1813.8,258.7 1816,259.1 1817.6,259.5 1821.4,261.1 1825.2,263.1 1826.8,264 1828.9,265.2 1832.7,267.7 1834.8,269.5 1836.5,271.7 1840.3,278.5 1843.1,283.3 1844.1,285 1847.9,291 1851.7,296.6 1854.1,299.9 1855.5,301.8 1859.3,306.9 1863.1,311.5 1866.9,315.6 1867.9,316.5 1870.7,318.9 1874.5,322 1878.3,324.5 1881.7,326.2 1882.1,326.3 1885.9,327.8 1889.7,328.9 1891.4,329 1893.5,328.8 1897.3,328.1 1899.7,327.5 1901.1,326.8 1904.6,325.3 1904.9,325.4 1907.9,329 1908.7,330.1 1912.5,336.6 1916.3,344.1 1920.1,350.7 1920.4,351.1 1923.9,355.9 1927.7,360.5 1931.5,364.8 1935.3,368.8 1936.9,370.4 1939.1,372.6 1942.9,376.2 1946.7,379.5 1950.5,382.7 1950.7,382.8 1954.3,385.6 1958.1,388.4 1961.9,390.9 1964.5,392.5 1965.7,393.2 1969.5,395.3 1973.3,397.2 1977.1,399 1980.9,400.7 1981.1,400.8 1984.7,402.3 1988.5,403.8 1992.3,405.2 1996.1,406.5 1999.9,407.9 2003.2,409.1 2003.7,409.3 2007.5,410.7 2011.3,412.1 2015.1,413.6 2018.9,415 2022.7,416.4 2026.5,417.8 2030.3,419.2 2034.1,420.6" stroke="#80ffb4"/>
<path d="M1620,420.6L1623.8,418.4 1627.6,416.2 1631.4,414 1635.2,411.8 1639,409.6 1642.8,407.3 1646.6,405 1650.4,402.8 1654.2,400.5 1655.9,399.4 1658,398.1 1661.8,395.8 1665.6,393.4 1669.4,391.1 1673.2,388.7 1677,386.2 1680.8,383.8 1684.6,381.4 1688.4,378.9 1691.8,376.7 1692.2,376.5 1696,374 1699.8,371.5 1703.6,369.1 1707.4,366.5 1711.2,364 1715,361.5 1718.8,358.9 1719.4,358.5 1722.6,356.3 1726.4,353.7 1730.2,351.1 1734,348.4 1735.9,346.9 1737.8,345.5 1741.6,342.2 1745.4,339 1749.2,336.2 1749.8,335.8 1753,334.5 1755.3,333.1 1756.8,330 1759.4,322 1760.6,319.4 1763.6,314.3 1764.4,313.7 1768.2,311.4 1770.5,311 1772,311 1775.8,311 1779.6,311 1780.1,311 1783.4,311 1787.2,311.2 1791,311.4 1794.8,311.7 1798.6,312 1799.4,312.1 1802.4,312.3 1806.2,312.6 1810,313 1813.8,313.4 1816,313.7 1817.6,314 1821.4,314.9 1825.2,315.7 1826.8,315.9 1828.9,316.1 1832.7,316.4 1836.5,316.6 1837.5,316.6 1840.3,315.4 1844.1,312.6 1844.4,312.5 1847.9,310.6 1849.1,310.4 1851.7,313.4 1852.7,315.1 1855.5,320.1 1859.3,328.2 1863.1,336.3 1865.1,340 1866.9,342.9 1870.7,348.9 1874.5,354.4 1878.3,359.4 1881.7,363.5 1882.1,364 1885.9,368.2 1889.7,372 1893.5,375.5 1895.5,377.3 1897.3,378.9 1901.1,382.2 1904.9,385.3 1908.7,388 1909.3,388.4 1912.5,390.2 1916.3,392.1 1920.1,393.9 1923.1,395.3 1923.9,395.7 1927.7,397.7 1931.5,399.7 1935.3,401.5 1936.9,402.2 1939.1,403 1942.9,404.4 1946.7,405.6 1950.5,406.8 1954.3,407.9 1958.1,408.9 1961.9,409.9 1964.5,410.5 1965.7,410.7 1969.5,411.5 1973.3,412.3 1977.1,413 1980.9,413.7 1984.7,414.3 1988.5,414.9 1992.1,415.5 1992.3,415.5 1996.1,416 1999.9,416.6 2003.7,417.1 2007.5,417.6 2011.3,418.1 2015.1,418.6 2018.9,419 2022.7,419.5 2026.5,419.9 2030.3,420.3 2034.1,420.6" stroke="#00b5eb"/>
<path d="M1620,420.6L1623.8,418.8 1627.6,417.1 1631.4,415.3 1635.2,413.5 1639,411.7 1642.8,409.9 1646.6,408 1650.4,406.2 1654.2,404.4 1655.9,403.6 1658,402.5 1661.8,400.7 1665.6,398.8 1669.4,397 1673.2,395.1 1677,393.2 1680.8,391.3 1684.6,389.4 1688.4,387.4 1691.8,385.7 1692.2,385.5 1696,383.4 1699.8,381.4 1703.6,379.2 1707.4,377.1 1711.2,375 1715,372.8 1718.8,370.7 1719.4,370.4 1722.6,368.6 1726.4,366.6 1730.2,364.5 1734,362.4 1735.9,361.3 1737.8,360.2 1741.6,357.9 1745.4,355.5 1749.2,353.3 1749.8,353 1753,351.6 1755.3,350.2 1756.8,348 1759.4,342.8 1760.6,340.9 1763.6,337.2 1764.4,336.7 1768.2,334.9 1770.5,334.5 1772,334.4 1775.8,334.2 1779.6,334 1783.4,333.9 1785.6,333.9 1787.2,333.8 1791,333.7 1794.8,333.6 1798.6,333.5 1802.4,333.4 1806.2,333.2 1807.7,333.1 1810,332.5 1813.8,330.3 1816,329 1817.6,328 1820.6,326.7 1821.4,326.9 1823.6,329 1825.2,331.6 1826.8,335 1828.9,338.8 1832.7,345 1834.8,348.3 1836.5,351.1 1840.3,357 1843.1,360.7 1844.1,362 1847.9,366 1851.7,369.6 1854.1,371.8 1855.5,373.2 1859.3,376.8 1863.1,380.3 1866.9,383.5 1867.9,384.2 1870.7,386.1 1874.5,388.5 1878.3,390.7 1881.7,392.5 1882.1,392.7 1885.9,394.7 1889.7,396.6 1893.5,398.5 1897.3,400.3 1901.1,401.9 1904.9,403.4 1908.7,404.8 1909.3,404.9 1912.5,405.9 1916.3,407.1 1920.1,408.1 1923.9,409.1 1927.7,409.9 1931.5,410.8 1935.3,411.5 1936.9,411.9 1939.1,412.3 1942.9,412.9 1946.7,413.6 1950.5,414.2 1954.3,414.7 1958.1,415.3 1961.9,415.7 1964.5,416 1965.7,416.1 1969.5,416.5 1973.3,416.9 1977.1,417.2 1980.9,417.6 1984.7,417.9 1988.5,418.2 1992.3,418.5 1996.1,418.7 1999.9,419 2003.7,419.2 2005.9,419.3 2007.5,419.4 2011.3,419.6 2015.1,419.8 2018.9,420 2022.7,420.2 2026.5,420.3 2030.3,420.5 2034.1,420.6" stroke="#4062fa"/>
<path d="M1620,420.6L1623.8,418.8 1627.6,417.1 1631.4,415.3 1635.2,413.5 1639,411.7 1642.8,409.9 1646.6,408 1650.4,406.2 1654.2,404.4 1655.9,403.6 1658,402.5 1661.8,400.7 1665.6,398.8 1669.4,397 1673.2,395.1 1677,393.2 1680.8,391.3 1684.6,389.4 1688.4,387.4 1691.8,385.7 1692.2,385.5 1696,383.4 1699.8,381.4 1703.6,379.2 1707.4,377.1 1711.2,375 1715,372.8 1718.8,370.7 1719.4,370.4 1722.6,368.6 1726.4,366.6 1730.2,364.5 1734,362.4 1735.9,361.3 1737.8,360.2 1741.6,357.9 1745.4,355.5 1749.2,353.3 1749.8,353 1753,351.6 1755.3,350.2 1756.8,347.6 1759.4,341.4 1760.6,339.6 1764.4,335 1764.9,334.5 1768.2,332 1772,329.7 1774.6,328.1 1775.8,327.4 1779.6,325.3 1783.4,323.1 1785.6,321.5 1787.2,320 1790.6,316.5 1791,316.3 1793.9,315.1 1794.8,315.5 1797.2,319.2 1798.6,321.5 1802.4,329.8 1806.2,338.4 1807.7,341.4 1810,344.9 1813.8,350.3 1817.6,355.1 1818.8,356.6 1821.4,359.4 1825.2,363.2 1826.8,364.9 1828.9,367.4 1832.7,372 1836.5,376.3 1837.5,377.3 1840.3,379.8 1844.1,382.9 1847.9,385.7 1851.7,388.3 1854.1,389.7 1855.5,390.6 1859.3,392.6 1863.1,394.5 1866.9,396.2 1867.9,396.6 1870.7,397.9 1874.5,399.5 1878.3,401 1881.7,402.2 1882.1,402.3 1885.9,403.7 1889.7,404.9 1893.5,406.2 1897.3,407.3 1901.1,408.4 1904.9,409.4 1908.7,410.3 1909.3,410.5 1912.5,411.1 1916.3,411.9 1920.1,412.6 1923.9,413.3 1927.7,413.9 1931.5,414.5 1935.3,415 1936.9,415.2 1939.1,415.4 1942.9,415.9 1946.7,416.2 1950.5,416.6 1954.3,416.9 1958.1,417.2 1961.9,417.5 1964.5,417.7 1965.7,417.8 1969.5,418 1973.3,418.2 1977.1,418.5 1980.9,418.7 1984.7,418.9 1988.5,419.1 1992.3,419.3 1996.1,419.5 1999.9,419.6 2003.7,419.8 2005.9,419.8 2007.5,419.9 2011.3,420 2015.1,420.1 2018.9,420.3 2022.7,420.4 2026.5,420.5 2030.3,420.5 2034.1,420.6" stroke="#8000ff"/>
</g>
<path d="M1758.0,424.9 v-6.3 M1896.1,424.9 v-6.3 M1620.0,420.6 h6.3 M1620.0,345.5 h6.3 M1620.0,270.4 h6.3 M1620.0,195.3 h6.3 M1620.0,120.2 h6.3 M1620.0,45.1 h6.3" stroke="#686868" stroke-width="1.7" fill="none"/>
<rect x="1620.0" y="44.8" width="414.1" height="380.1" fill="none" stroke="#686868" stroke-width="2.5"/>
<text class="tk" x="1614.1" y="428.8" text-anchor="end">0.0</text>
<text class="tk" x="1614.1" y="353.7" text-anchor="end">0.2</text>
<text class="tk" x="1614.1" y="278.6" text-anchor="end">0.4</text>
<text class="tk" x="1614.1" y="203.5" text-anchor="end">0.6</text>
<text class="tk" x="1614.1" y="128.4" text-anchor="end">0.8</text>
<text class="tk" x="1614.1" y="53.3" text-anchor="end">1.0</text>
<text class="tk" x="1620.0" y="448.0" text-anchor="middle">0</text>
<text class="tk" x="1758.0" y="448.0" text-anchor="middle">1</text>
<text class="tk" x="1896.1" y="448.0" text-anchor="middle">2</text>
<text class="tk" x="2034.1" y="448.0" text-anchor="middle">3</text>
</g>
<g>
<g fill="none" stroke-width="2.30" stroke-linejoin="round" stroke-opacity="0.72">
<path d="M126.6,882.7L130.4,881.9 134.2,881 138,880.2 141.8,879.4 145.6,878.5 149.4,877.6 153.2,876.8 157,875.9 160.8,875 164.2,874.2 164.6,874.1 168.4,873.3 172.2,872.4 176,871.5 179.8,870.6 183.6,869.7 187.4,868.8 191.2,867.9 195,867 198.8,866 201.7,865.2 202.6,865 206.4,864 210.2,862.9 214,861.8 217.8,860.7 221.6,859.6 225.4,858.4 229.2,857.2 233,856 236.8,854.8 239.3,853.9 240.6,853.4 244.4,851.9 248.2,850.3 252,848.9 254.3,848.2 255.8,847.8 259.6,847 261.9,846.7 263.4,846.6 267.2,846.4 271,846.3 274.8,846.2 276.5,846.1 278.6,846 282.4,845.8 286.2,845.5 290,845.3 293.8,845 297.6,844.8 301.4,844.6 305.2,844.5 306.6,844.5 309,844.5 312.8,844.6 316.6,844.7 320.4,844.9 324.2,845 326.7,845.2 328,845.3 331.8,845.7 333.7,845.9 335.6,846.3 339.4,847.4 341.5,848.2 343.2,848.9 347,851.1 350.8,853.5 353.5,855.2 354.6,855.8 358.4,857.9 362.2,859.9 363.5,860.6 366,861.8 369.8,863.6 373.5,865.2 373.6,865.2 377.4,866.7 381.2,868 383.5,868.8 385,869.2 388.8,870.4 392.6,871.4 393.5,871.6 396.4,872.2 400.2,873 404,873.7 407.8,874.3 411.6,874.9 413.5,875.2 415.4,875.5 419.2,876 423,876.5 426.8,876.9 430.6,877.3 433.5,877.6 434.4,877.7 438.2,878 442,878.4 445.8,878.7 449.6,879 453.4,879.2 453.5,879.2 457.2,879.5 461,879.7 464.8,880 468.6,880.2 472.4,880.5 476.2,880.7 480,880.9 483.8,881.1 487.6,881.3 491.4,881.5 493.4,881.6 495.2,881.7 499,881.8 502.8,882 506.6,882.1 510.4,882.3 514.2,882.4 518,882.5 521.8,882.6 525.6,882.8 529.4,882.9 533.2,882.9 537,883 540.8,883.1" stroke="#ff0000"/>
<path d="M126.6,882.7L130.4,881.9 134.2,881 138,880.2 141.8,879.4 145.6,878.5 149.4,877.6 153.2,876.8 157,875.9 160.8,875 164.2,874.2 164.6,874.1 168.4,873.3 172.2,872.4 176,871.5 179.8,870.6 183.6,869.7 187.4,868.8 191.2,867.9 195,867 198.8,866 201.7,865.2 202.6,865 206.4,864 210.2,862.9 214,861.8 217.8,860.7 221.6,859.6 225.4,858.4 229.2,857.2 233,856 236.8,854.8 239.3,853.9 240.6,853.4 244.4,851.9 248.2,850.3 252,848.9 254.3,848.2 255.8,847.8 259.6,847 261.9,846.7 263.4,846.6 267.2,846.4 271,846.3 274.8,846.2 276.5,846.1 278.6,846 282.4,845.9 286.2,845.8 290,845.6 293.8,845.5 297.6,845.4 301.4,845.3 305.2,845.3 306.6,845.3 309,845.3 312.8,845.4 316.6,845.5 320.4,845.6 324.2,845.8 326.7,845.9 328,846 331.8,846.4 333.7,846.7 335.6,847 339.4,848.2 341.5,848.9 343.2,849.7 347,851.8 350.8,854.3 353.5,855.9 354.6,856.5 358.4,858.6 362.2,860.6 363.5,861.3 366,862.5 369.8,864.4 373.5,865.9 373.6,866 377.4,867.5 381.2,868.8 383.5,869.5 385,870 388.8,871.1 392.6,872.2 393.5,872.4 396.4,873 400.2,873.8 404,874.5 407.8,875.1 411.6,875.7 413.5,876 415.4,876.2 419.2,876.7 423,877.2 426.8,877.7 430.6,878.1 433.5,878.4 434.4,878.5 438.2,878.8 442,879.1 445.8,879.5 449.6,879.7 453.4,880 453.5,880 457.2,880.2 461,880.4 464.8,880.5 468.6,880.7 472.4,880.8 476.2,881 480,881.1 483.8,881.3 487.6,881.4 491.4,881.5 493.4,881.6 495.2,881.7 499,881.8 502.8,881.9 506.6,882.1 510.4,882.2 514.2,882.3 518,882.4 521.8,882.5 525.6,882.7 529.4,882.8 533.2,882.9 537,883 540.8,883.1" stroke="#ffb360"/>
<path d="M126.6,882.7L130.4,881.8 134.2,880.8 138,879.8 141.8,878.8 145.6,877.8 149.4,876.8 153.2,875.8 157,874.7 160.8,873.7 164.2,872.7 164.6,872.6 168.4,871.5 172.2,870.5 176,869.4 179.8,868.3 183.6,867.2 187.4,866 191.2,864.9 195,863.7 198.8,862.4 201.7,861.5 202.6,861.2 206.4,859.8 210.2,858.5 214,857.1 217.8,855.6 221.6,854.1 225.4,852.6 229.2,851.1 233,849.6 236.8,848.1 239.3,847.2 240.6,846.6 244.4,845 248.2,843.3 252,841.8 254.3,841.2 255.8,840.8 259.6,840 261.9,839.7 263.4,839.5 267.2,839.1 271,838.8 274.8,838.6 276.5,838.5 278.6,838.3 282.4,837.9 286.2,837.5 290,837.2 293.8,836.8 297.6,836.5 301.4,836.3 305.2,836.2 306.6,836.2 309,836.2 312.8,836.2 316.6,836.2 320.4,836.3 324.2,836.4 326.7,836.5 328,836.7 331.8,837.4 333.7,837.9 335.6,838.3 339.4,839.3 341.5,839.9 343.2,840.6 347,842.7 350.8,845.1 353.5,846.5 354.6,847 358.4,848.6 362.2,850.1 363.5,850.5 366,851.5 369.8,852.8 373.5,853.9 373.6,854 377.4,854.8 381.2,855.5 383.5,855.9 385,856.2 388.8,856.9 392.6,857.5 393.5,857.6 396.4,857.7 400.2,857.9 401.5,857.9 404,858.1 407.5,858.5 407.8,858.6 411.6,859.8 413.5,860.6 415.4,861.3 419.2,862.8 423,864.4 423.4,864.5 426.8,865.9 430.6,867.5 433.5,868.6 434.4,868.9 438.2,870.2 442,871.4 445.8,872.6 449.6,873.6 453.4,874.5 453.5,874.6 457.2,875.3 461,876 464.8,876.7 468.6,877.3 472.4,877.8 473.6,878 476.2,878.4 480,878.9 483.8,879.4 487.6,879.8 491.4,880.2 493.4,880.4 495.2,880.5 499,880.8 502.8,881.1 506.6,881.4 510.4,881.7 514.2,882 518,882.2 521.8,882.4 525.6,882.6 529.4,882.8 533.2,882.9 537,883 540.8,883.1" stroke="#80ffb4"/>
<path d="M126.6,882.7L130.4,881.6 134.2,880.5 138,879.3 141.8,878.1 145.6,876.9 149.4,875.7 153.2,874.5 157,873.3 160.8,872 164.2,870.9 164.6,870.8 168.4,869.5 172.2,868.2 176,867 179.8,865.7 183.6,864.3 187.4,863 191.2,861.6 195,860.2 198.8,858.8 201.7,857.7 202.6,857.3 206.4,855.8 210.2,854.2 214,852.6 217.8,850.9 221.6,849.2 225.4,847.4 229.2,845.7 233,844 236.8,842.3 239.3,841.2 240.6,840.5 244.4,838.7 248.2,836.9 252,835.3 254.3,834.4 255.8,833.9 259.6,832.7 261.9,832.1 263.4,831.9 267.2,831.3 271,830.8 274.8,830.2 276.5,829.9 278.6,829.4 282.4,828.2 286.2,827.2 286.6,827.1 290,826.6 293.8,826 297.6,825.5 301.4,825 305.2,824.6 306.6,824.5 309,824.3 312.8,824 316.6,823.7 320.4,823.5 322.7,823.5 324.2,823.5 328,823.5 331.8,823.5 333.7,823.5 335.6,823.5 339.4,823.5 343.2,823.5 347,823.5 347.5,823.5 350.8,823.8 353.5,824.5 354.6,825 357.4,827.1 358.4,828.1 362.2,833.2 365.5,837.5 366,838.1 369.8,841.5 373.5,844.5 373.6,844.6 377.4,847.9 381.2,850.9 383.5,852.5 385,853.4 388.8,855.6 392.6,857.5 393.5,857.9 396.4,859.4 400.2,861.1 403.6,862.6 404,862.7 407.8,864.3 411.6,865.9 413.5,866.6 415.4,867.3 419.2,868.7 423,870.1 426.8,871.3 430.6,872.5 433.5,873.2 434.4,873.4 438.2,874.2 442,874.9 445.8,875.5 449.6,876.1 453.4,876.6 453.5,876.6 457.2,877.1 461,877.5 464.8,878 468.6,878.4 472.4,878.8 476.2,879.2 480,879.5 483.8,879.8 487.6,880.1 491.4,880.4 493.4,880.6 495.2,880.7 499,881 502.8,881.2 506.6,881.5 510.4,881.7 514.2,881.9 518,882.1 521.8,882.3 525.6,882.5 529.4,882.7 533.2,882.8 537,883 540.8,883.1" stroke="#00b5eb"/>
<path d="M126.6,882.7L130.4,881.3 134.2,879.8 138,878.3 141.8,876.8 145.6,875.3 149.4,873.7 153.2,872.1 157,870.5 160.8,868.9 164.2,867.5 164.6,867.3 168.4,865.6 172.2,864 176,862.3 179.8,860.6 183.6,858.9 187.4,857.1 191.2,855.3 195,853.5 198.8,851.6 201.7,850.2 202.6,849.7 206.4,847.7 210.2,845.7 214,843.6 217.8,841.5 221.6,839.4 225.4,837.2 229.2,835 233,832.8 236.8,830.6 239.3,829.1 240.6,828.4 244.4,826.1 248.2,823.8 252,821.4 255.8,819.1 259.6,816.9 261.9,815.6 263.4,814.8 267.2,812.8 271,810.8 274.8,808.9 276.5,808.1 278.6,807.1 282.4,805.3 286.2,803.7 286.6,803.5 290,802.3 293.8,801 297.6,799.8 301.4,798.6 305.2,797.5 306.6,797.1 309,796.4 312.8,795.2 316.6,794.2 318.7,793.8 320.4,793.5 322.2,793.4 324.2,794.6 324.6,795 326.7,797.5 328,799 331.8,803.1 333.7,805.4 335.6,807.9 339.4,813.5 343.2,819.1 343.5,819.5 347,823.9 350.8,828.5 353.5,831.5 354.6,832.7 358.4,836.5 362.2,840 363.5,841.1 366,843 369.8,845.5 373.5,847.9 373.6,848 377.4,850.8 381.2,853.6 383.5,855.1 385,856 388.8,858.2 392.6,860.1 393.5,860.6 396.4,861.9 400.2,863.6 403.6,865 404,865.1 407.8,866.6 411.6,867.9 413.5,868.6 415.4,869.2 419.2,870.3 423,871.4 426.8,872.4 430.6,873.4 433.5,874 434.4,874.1 438.2,874.8 442,875.5 445.8,876 449.6,876.6 453.4,877.1 453.5,877.1 457.2,877.5 461,878 464.8,878.4 468.6,878.7 472.4,879.1 473.6,879.2 476.2,879.4 480,879.8 483.8,880.1 487.6,880.4 491.4,880.7 493.4,880.8 495.2,881 499,881.2 502.8,881.4 506.6,881.6 510.4,881.9 514.2,882.1 518,882.3 521.8,882.4 525.6,882.6 529.4,882.8 533.2,882.9 537,883 540.8,883.1" stroke="#4062fa"/>
<path d="M126.6,882.7L130.4,880.1 134.2,877.5 138,874.9 141.8,872.2 145.6,869.5 149.4,866.8 153.2,864.1 157,861.4 160.8,858.6 164.2,856.2 164.6,855.8 168.4,853.1 172.2,850.3 176,847.6 179.8,844.8 183.6,842 187.4,839.1 191.2,836.2 195,833.2 198.8,830.1 201.7,827.6 202.6,826.9 206.4,823.4 210.2,819.7 214,815.9 216.8,813.4 217.8,812.4 221.6,809.1 225.4,805.9 229.2,802.6 233,799.4 236.8,796.1 239.3,793.8 240.6,792.6 244.4,789 248.2,785.3 252,781.3 254.3,778.8 255.8,777 259.6,772.1 261.9,769 263.4,767 267.2,761.4 271,755.8 274.8,750.3 276.5,748 278.6,745.3 282.4,740.4 286.2,735.9 288.6,733.3 290,731.7 293.7,728.4 293.8,728.3 296.6,727.3 297.6,727.5 300.1,729.7 301.4,732 302.6,735.3 305.2,743.7 308.6,755.4 309,756.6 312.8,766.4 314.6,770.4 316.6,774.2 320.4,781 320.6,781.3 324.2,790 326.7,795.4 328,797.6 331.8,802.8 333.7,805.4 335.6,808.1 339.4,813.7 343.2,819.1 343.5,819.5 347,823.9 350.8,828.5 353.5,831.5 354.6,832.7 358.4,836.5 362.2,840 363.5,841.1 366,843 369.8,845.5 373.5,847.9 373.6,848 377.4,850.8 381.2,853.6 383.5,855.1 385,856 388.8,858.2 392.6,860.1 393.5,860.6 396.4,861.9 400.2,863.6 403.6,865 404,865.1 407.8,866.6 411.6,867.9 413.5,868.6 415.4,869.2 419.2,870.3 423,871.4 426.8,872.4 430.6,873.4 433.5,874 434.4,874.1 438.2,874.8 442,875.5 445.8,876 449.6,876.6 453.4,877.1 453.5,877.1 457.2,877.5 461,878 464.8,878.4 468.6,878.7 472.4,879.1 473.6,879.2 476.2,879.4 480,879.8 483.8,880.1 487.6,880.4 491.4,880.7 493.4,880.8 495.2,881 499,881.2 502.8,881.4 506.6,881.6 510.4,881.9 514.2,882.1 518,882.3 521.8,882.4 525.6,882.6 529.4,882.8 533.2,882.9 537,883 540.8,883.1" stroke="#8000ff"/>
</g>
<path d="M264.7,888.3 v-6.3 M402.7,888.3 v-6.3 M126.6,884.6 h6.3 M126.6,809.5 h6.3 M126.6,734.4 h6.3 M126.6,659.3 h6.3 M126.6,584.2 h6.3 M126.6,509.1 h6.3" stroke="#686868" stroke-width="1.7" fill="none"/>
<rect x="126.6" y="508.6" width="414.2" height="379.7" fill="none" stroke="#686868" stroke-width="2.5"/>
<text class="tk" x="120.7" y="894.1" text-anchor="end">0.0</text>
<text class="tk" x="120.7" y="819.0" text-anchor="end">0.2</text>
<text class="tk" x="120.7" y="743.9" text-anchor="end">0.4</text>
<text class="tk" x="120.7" y="668.8" text-anchor="end">0.6</text>
<text class="tk" x="120.7" y="593.7" text-anchor="end">0.8</text>
<text class="tk" x="120.7" y="518.6" text-anchor="end">1.0</text>
<text class="tk" x="126.6" y="911.4" text-anchor="middle">0</text>
<text class="tk" x="264.7" y="911.4" text-anchor="middle">1</text>
<text class="tk" x="402.7" y="911.4" text-anchor="middle">2</text>
<text class="tk" x="540.8" y="911.4" text-anchor="middle">3</text>
</g>
<g>
<g fill="none" stroke-width="2.30" stroke-linejoin="round" stroke-opacity="0.72">
<path d="M624.9,882.7L628.7,881.8 632.5,880.9 636.3,880 640.1,879.1 643.9,878.1 647.7,877.1 651.5,876.2 655.3,875.2 659.1,874.2 662.4,873.3 662.9,873.2 666.7,872.2 670.5,871.2 674.3,870.2 678.1,869.2 681.9,868.2 685.7,867.2 689.5,866.1 693.3,865 697.1,863.8 700.1,862.8 700.9,862.6 704.7,861.3 708.5,859.9 712.3,858.5 716.1,857 719.9,855.5 723.7,853.9 727.5,852.3 731.2,850.6 735,848.9 737.6,847.8 738.8,847.2 742.6,845.3 746.4,843.3 750.2,841.4 752.7,840.3 754,839.6 757.8,837.9 760.1,837.2 761.6,837 765.4,836.4 769.2,836 773,835.6 774.9,835.4 776.8,835.3 780.6,834.9 784.4,834.6 788.2,834.3 792,834.2 794.8,834.1 795.8,834.1 799.6,834.1 803.4,834.1 807.2,834.1 811,834.1 814.8,834.1 814.8,834.1 818.6,834.3 822.4,834.8 824.9,835.1 826.2,835.3 830,836.3 831.9,836.8 833.8,837.5 837.6,839.1 839.6,840.1 841.4,841.2 845.2,844 849,847.1 851.6,849.2 852.8,850 856.6,852.8 860.4,855.4 861.6,856.2 864.2,857.7 868,859.8 871.6,861.6 871.8,861.7 875.6,863.4 879.4,865 881.6,865.8 883.2,866.4 887,867.8 890.8,869 891.5,869.2 894.6,870 898.4,870.9 902.2,871.8 906,872.6 909.8,873.3 911.5,873.6 913.6,874 917.4,874.6 921.2,875.2 925,875.8 928.8,876.3 931.5,876.6 932.6,876.7 936.3,877.1 940.1,877.5 943.9,877.8 947.7,878.1 951.5,878.4 951.5,878.4 955.3,878.7 959.1,879 962.9,879.3 966.7,879.6 970.5,879.9 974.3,880.2 978.1,880.4 981.9,880.7 985.7,880.9 989.5,881.1 991.6,881.2 993.3,881.3 997.1,881.5 1000.9,881.7 1004.7,881.9 1008.5,882 1012.3,882.2 1016.1,882.4 1019.9,882.5 1023.7,882.6 1027.5,882.8 1031.3,882.9 1035.1,883 1038.9,883.1" stroke="#ff0000"/>
<path d="M624.9,882.7L628.7,881.8 632.5,880.9 636.3,880 640.1,879.1 643.9,878.1 647.7,877.1 651.5,876.2 655.3,875.2 659.1,874.2 662.4,873.3 662.9,873.2 666.7,872.2 670.5,871.2 674.3,870.2 678.1,869.2 681.9,868.2 685.7,867.2 689.5,866.1 693.3,865 697.1,863.8 700.1,862.8 700.9,862.6 704.7,861.3 708.5,859.9 712.3,858.5 716.1,857 719.9,855.5 723.7,853.9 727.5,852.3 731.2,850.6 735,848.9 737.6,847.8 738.8,847.2 742.6,845.3 746.4,843.3 750.2,841.4 752.7,840.3 754,839.6 757.8,837.9 760.1,837.2 761.6,837 765.4,836.3 769.2,835.9 773,835.6 774.9,835.4 776.8,835.4 780.6,835.2 784.4,835.1 788.2,835 792,834.9 794.8,834.9 795.8,834.9 799.6,834.9 803.4,834.9 807.2,834.9 811,834.9 814.8,834.9 814.8,834.9 818.6,835.1 822.4,835.5 824.9,835.9 826.2,836.1 830,837 831.9,837.6 833.8,838.2 837.6,839.9 839.6,840.9 841.4,841.9 845.2,844.8 849,847.9 851.6,849.9 852.8,850.8 856.6,853.5 860.4,856.2 861.6,856.9 864.2,858.5 868,860.5 871.6,862.3 871.8,862.4 875.6,864.1 879.4,865.7 881.6,866.6 883.2,867.2 887,868.5 890.8,869.7 891.5,870 894.6,870.8 898.4,871.7 902.2,872.5 906,873.3 909.8,874 911.5,874.3 913.6,874.7 917.4,875.4 921.2,876 925,876.5 928.8,877 931.5,877.4 932.6,877.5 936.3,877.9 940.1,878.2 943.9,878.6 947.7,878.9 951.5,879.2 951.5,879.2 955.3,879.4 959.1,879.6 962.9,879.9 966.7,880.1 970.5,880.3 974.3,880.4 978.1,880.6 981.9,880.8 985.7,881 989.5,881.1 991.6,881.2 993.3,881.3 997.1,881.5 1000.9,881.6 1004.7,881.8 1008.5,882 1012.3,882.1 1016.1,882.3 1019.9,882.4 1023.7,882.6 1027.5,882.7 1031.3,882.8 1035.1,883 1038.9,883.1" stroke="#ffb360"/>
<path d="M624.9,882.7L628.7,881.8 632.5,880.8 636.3,879.8 640.1,878.7 643.9,877.6 647.7,876.5 651.5,875.3 655.3,874.1 659.1,872.9 662.4,871.8 662.9,871.7 666.7,870.4 670.5,869.1 674.3,867.7 678.1,866.3 681.9,864.8 685.7,863.3 689.5,861.8 693.3,860.3 697.1,858.8 700.1,857.5 700.9,857.2 704.7,855.7 708.5,854.1 712.3,852.5 716.1,850.9 719.9,849.3 723.7,847.6 727.5,845.9 731.2,844.1 735,842.3 737.6,841 738.8,840.4 742.6,838.3 746.4,836.2 750.2,834.1 752.7,832.7 754,832 757.8,829.9 760.1,829 761.6,828.6 765.4,827.6 769.2,826.8 773,826.2 774.9,826 776.8,825.7 780.6,825.3 784.4,824.8 788.2,824.4 792,824.1 795.8,823.8 799.6,823.6 803.4,823.5 804.9,823.5 807.2,823.5 811,823.5 814.8,823.6 818.6,823.8 822.4,824 824.9,824.1 826.2,824.3 830,825 831.9,825.5 833.8,826.1 837.6,827.6 839.6,828.5 841.4,829.5 845.2,832.1 849,834.8 851.6,836.5 852.8,837.2 856.6,839.2 860.4,841 861.6,841.5 864.2,842.7 868,844.2 871.6,845.5 871.8,845.6 875.6,846.8 879.4,847.9 881.6,848.6 883.2,849 887,850.2 890.8,851.1 891.5,851.2 894.6,851.3 898.4,851.5 899.5,851.6 902.2,851.9 905.6,852.5 906,852.6 909.8,854.2 911.5,855.1 913.6,856.2 917.4,858.3 921.2,860.3 921.6,860.6 925,862.1 928.8,863.8 931.5,865 932.6,865.4 936.3,867 940.1,868.5 943.9,870 947.7,871.4 951.5,872.6 951.5,872.6 955.3,873.6 959.1,874.5 962.9,875.3 966.7,876.1 970.5,876.8 971.6,877 974.3,877.5 978.1,878.1 981.9,878.7 985.7,879.3 989.5,879.8 991.6,880 993.3,880.2 997.1,880.5 1000.9,880.9 1004.7,881.2 1008.5,881.5 1012.3,881.9 1016.1,882.1 1019.9,882.4 1023.7,882.6 1027.5,882.8 1031.3,882.9 1035.1,883 1038.9,883.1" stroke="#80ffb4"/>
<path d="M624.9,882.7L628.7,881.5 632.5,880.3 636.3,879 640.1,877.7 643.9,876.4 647.7,875 651.5,873.7 655.3,872.3 659.1,870.9 662.4,869.6 662.9,869.4 666.7,867.9 670.5,866.5 674.3,864.9 678.1,863.4 681.9,861.8 685.7,860.2 689.5,858.6 693.3,856.9 697.1,855.2 700.1,853.8 700.9,853.4 704.7,851.6 708.5,849.7 712.3,847.8 716.1,845.8 719.9,843.8 723.7,841.8 727.5,839.7 731.2,837.7 735,835.6 737.6,834.2 738.8,833.6 742.6,831.5 746.4,829.4 750.2,827.3 752.7,826 754,825.3 757.8,823.3 760.1,822.2 761.6,821.7 765.4,820.3 769.2,819.2 773,818.2 774.9,817.7 776.8,817.3 780.6,816.4 784.4,815.6 788.2,814.9 792,814.2 794.8,813.9 795.8,813.7 799.6,813.2 803.4,812.8 807.2,812.4 811,812 814.8,811.9 814.8,811.9 818.6,811.8 822.4,811.7 826.2,811.6 830,811.6 831.9,811.6 833.8,811.6 837.6,811.6 841.4,811.8 843.6,811.9 845.2,812 849,812.7 849.6,812.9 852.8,814.9 854.5,816.4 856.6,819.1 859.5,823.5 860.4,824.6 864.2,829.6 867.6,833.5 868,833.9 871.8,837.6 875.6,840.9 877.6,842.5 879.4,843.9 883.2,846.6 887,849.1 887.6,849.5 890.8,851.6 894.6,853.8 897.6,855.5 898.4,856 902.2,858 906,860 909.8,861.8 911.5,862.6 913.6,863.4 917.4,864.9 921.2,866.3 925,867.5 928.8,868.7 931.5,869.6 932.6,869.9 936.3,871 940.1,872 943.9,872.9 947.7,873.8 951.5,874.6 951.5,874.6 955.3,875.2 959.1,875.9 962.9,876.4 966.7,876.9 970.5,877.4 971.6,877.6 974.3,877.9 978.1,878.5 981.9,878.9 985.7,879.4 989.5,879.8 991.6,880 993.3,880.1 997.1,880.5 1000.9,880.8 1004.7,881.1 1008.5,881.4 1012.3,881.7 1016.1,882 1019.9,882.2 1023.7,882.4 1027.5,882.6 1031.3,882.8 1035.1,883 1038.9,883.1" stroke="#00b5eb"/>
<path d="M624.9,882.7L628.7,881.2 632.5,879.6 636.3,877.9 640.1,876.3 643.9,874.6 647.7,872.8 651.5,871.1 655.3,869.3 659.1,867.5 662.4,865.8 662.9,865.6 666.7,863.7 670.5,861.8 674.3,859.8 678.1,857.8 681.9,855.8 685.7,853.7 689.5,851.6 693.3,849.5 697.1,847.3 700.1,845.5 700.9,845.1 704.7,842.8 708.5,840.5 712.3,838.1 716.1,835.7 719.9,833.3 723.7,830.8 727.5,828.3 731.2,825.8 735,823.2 737.6,821.5 738.8,820.7 742.6,818 746.4,815.3 750.2,812.5 754,809.8 757.8,807.2 760.1,805.7 761.6,804.7 765.4,802.3 769.2,800 773,797.7 774.9,796.7 776.8,795.6 780.6,793.5 784.4,791.6 784.8,791.5 788.2,790.2 792,788.9 795.8,787.8 799.6,786.7 803.4,785.5 804.9,785.1 807.2,784.3 811,783 814.8,781.8 816.9,781.3 818.6,781 820.4,780.8 822.4,782.5 823.8,784.3 826.2,787.7 828.9,791.5 830,792.9 831.9,795.2 833.8,798.1 837.6,804.8 839.6,808.4 841.4,811.4 845.2,817.7 847.6,821.5 849,823.5 852.8,828.8 856.6,833.5 857.6,834.5 860.4,837.1 864.2,840 867.6,842.5 868,842.8 871.8,845.8 875.6,848.6 877.6,849.9 879.4,851.1 883.2,853.4 887,855.6 887.6,855.9 890.8,857.7 894.6,859.8 897.6,861.2 898.4,861.5 902.2,863 906,864.3 909.8,865.6 911.5,866.2 913.6,866.9 917.4,868.2 921.2,869.5 925,870.7 928.8,871.9 931.5,872.6 932.6,872.8 936.3,873.7 940.1,874.6 943.9,875.3 947.7,876 951.5,876.6 951.5,876.6 955.3,877.1 959.1,877.6 962.9,878.1 966.7,878.5 970.5,878.9 971.6,879 974.3,879.2 978.1,879.6 981.9,879.9 985.7,880.2 989.5,880.4 991.6,880.6 993.3,880.7 997.1,880.9 1000.9,881.2 1004.7,881.4 1008.5,881.6 1012.3,881.9 1016.1,882.1 1019.9,882.3 1023.7,882.5 1027.5,882.6 1031.3,882.8 1035.1,883 1038.9,883.1" stroke="#4062fa"/>
<path d="M624.9,882.7L628.7,879.9 632.5,877 636.3,874.1 640.1,871.2 643.9,868.3 647.7,865.3 651.5,862.4 655.3,859.4 659.1,856.4 662.4,853.8 662.9,853.4 666.7,850.4 670.5,847.4 674.3,844.4 678.1,841.4 681.9,838.3 685.7,835.3 689.5,832.1 693.3,828.9 697.1,825.7 700.1,823 700.9,822.3 704.7,818.8 708.5,815.2 712.3,811.5 715.2,808.7 716.1,807.8 719.9,804.1 723.7,800.4 727.5,796.6 731.2,792.8 735,788.9 737.6,786.1 738.8,784.9 742.6,780.8 746.4,776.5 750.2,772 752.7,768.9 754,767 757.8,761.1 760.1,757.6 761.6,755.5 765.4,750.4 769.2,745.5 773,740.6 774.9,738 776.8,735.3 780.6,729.6 784.4,724.1 786.8,721.3 788.2,719.6 791.9,716.4 792,716.3 794.8,715.6 795.8,715.9 798.4,718.3 799.6,720.7 800.9,724.3 803.4,733.9 806.8,747.3 807.2,748.6 811,759 812.9,763.3 814.8,767.2 818.6,774 819.8,776.5 822.4,784.8 824.9,791.5 826.2,793.3 830,796.9 831.9,799 833.8,802.1 837.6,809.7 839.6,813.4 841.4,816.2 845.2,821.5 847.6,824.5 849,826.1 852.8,830.4 856.6,834.2 857.6,835 860.4,837.3 864.2,840.1 867.6,842.5 868,842.8 871.8,845.7 875.6,848.6 877.6,849.9 879.4,851.1 883.2,853.4 887,855.6 887.6,855.9 890.8,857.7 894.6,859.8 897.6,861.2 898.4,861.5 902.2,863 906,864.3 909.8,865.6 911.5,866.2 913.6,866.9 917.4,868.2 921.2,869.5 925,870.7 928.8,871.9 931.5,872.6 932.6,872.8 936.3,873.7 940.1,874.6 943.9,875.3 947.7,876 951.5,876.6 951.5,876.6 955.3,877.1 959.1,877.6 962.9,878.1 966.7,878.5 970.5,878.9 971.6,879 974.3,879.2 978.1,879.6 981.9,879.9 985.7,880.2 989.5,880.4 991.6,880.6 993.3,880.7 997.1,880.9 1000.9,881.2 1004.7,881.4 1008.5,881.6 1012.3,881.9 1016.1,882.1 1019.9,882.3 1023.7,882.5 1027.5,882.6 1031.3,882.8 1035.1,883 1038.9,883.1" stroke="#8000ff"/>
</g>
<path d="M762.9,888.3 v-6.3 M900.9,888.3 v-6.3 M624.9,884.6 h6.3 M624.9,809.5 h6.3 M624.9,734.4 h6.3 M624.9,659.3 h6.3 M624.9,584.2 h6.3 M624.9,509.1 h6.3" stroke="#686868" stroke-width="1.7" fill="none"/>
<rect x="624.9" y="508.6" width="414.0" height="379.7" fill="none" stroke="#686868" stroke-width="2.5"/>
<text class="tk" x="619.0" y="894.1" text-anchor="end">0.0</text>
<text class="tk" x="619.0" y="819.0" text-anchor="end">0.2</text>
<text class="tk" x="619.0" y="743.9" text-anchor="end">0.4</text>
<text class="tk" x="619.0" y="668.8" text-anchor="end">0.6</text>
<text class="tk" x="619.0" y="593.7" text-anchor="end">0.8</text>
<text class="tk" x="619.0" y="518.6" text-anchor="end">1.0</text>
<text class="tk" x="624.9" y="911.4" text-anchor="middle">0</text>
<text class="tk" x="762.9" y="911.4" text-anchor="middle">1</text>
<text class="tk" x="900.9" y="911.4" text-anchor="middle">2</text>
<text class="tk" x="1038.9" y="911.4" text-anchor="middle">3</text>
</g>
<g>
<g fill="none" stroke-width="2.30" stroke-linejoin="round" stroke-opacity="0.72">
<path d="M1120.9,882.7L1124.7,881.6 1128.5,880.5 1132.3,879.4 1136.1,878.2 1139.9,877.1 1143.7,875.9 1147.5,874.7 1151.3,873.4 1155.1,872.2 1158.5,871.1 1159,870.9 1162.8,869.7 1166.6,868.4 1170.4,867 1174.2,865.7 1178,864.4 1181.8,863 1185.6,861.6 1189.4,860.1 1193.2,858.7 1196.1,857.5 1197,857.2 1200.8,855.7 1204.6,854.1 1208.4,852.6 1212.2,851 1216,849.4 1219.8,847.7 1223.6,845.9 1227.5,844.1 1231.3,842.3 1233.7,841 1235.1,840.3 1238.9,838 1242.7,835.6 1246.5,833.3 1248.8,832 1250.3,831.2 1254.1,829.1 1256.3,828.2 1257.9,827.7 1261.7,826.6 1265.5,825.8 1269.3,825 1271.1,824.8 1273.1,824.5 1276.9,824 1280.7,823.5 1284.5,823 1288.3,822.7 1292.1,822.4 1296,822.3 1297.2,822.3 1299.8,822.3 1303.6,822.3 1307.4,822.5 1311.2,822.6 1313.2,822.7 1315,822.8 1318.8,823.4 1321.2,823.8 1322.6,824 1326.4,824.9 1328.3,825.4 1330.2,826.1 1334,828 1335.8,829.1 1337.8,830.6 1341.6,834.1 1345.4,838 1347.8,840.1 1349.2,841.3 1353,844.4 1356.8,847.4 1357.9,848.2 1360.6,850.2 1364.5,852.9 1367.8,855.2 1368.3,855.4 1372.1,857.7 1375.9,859.8 1377.9,860.8 1379.7,861.7 1383.5,863.4 1387.3,865 1387.9,865.2 1391.1,866.3 1394.9,867.6 1398.7,868.8 1402.5,869.8 1406.3,870.8 1407.9,871.2 1410.1,871.7 1413.9,872.5 1417.7,873.2 1421.5,873.9 1425.3,874.5 1427.9,874.8 1429.1,875 1433,875.5 1436.8,876 1440.6,876.4 1444.4,876.8 1448,877.2 1448.2,877.2 1452,877.6 1455.8,878 1459.6,878.3 1463.4,878.7 1467.2,879 1471,879.3 1474.8,879.6 1478.6,879.9 1482.4,880.2 1486.2,880.5 1488,880.6 1490,880.7 1493.8,881 1497.6,881.2 1501.5,881.4 1505.3,881.7 1509.1,881.9 1512.9,882.1 1516.7,882.3 1520.5,882.5 1524.3,882.6 1528.1,882.8 1531.9,883 1535.7,883.1" stroke="#ff0000"/>
<path d="M1120.9,882.7L1124.7,881.6 1128.5,880.5 1132.3,879.4 1136.1,878.2 1139.9,877.1 1143.7,875.9 1147.5,874.7 1151.3,873.4 1155.1,872.2 1158.5,871.1 1159,870.9 1162.8,869.7 1166.6,868.4 1170.4,867 1174.2,865.7 1178,864.4 1181.8,863 1185.6,861.6 1189.4,860.1 1193.2,858.7 1196.1,857.5 1197,857.2 1200.8,855.7 1204.6,854.1 1208.4,852.6 1212.2,851 1216,849.4 1219.8,847.7 1223.6,845.9 1227.5,844.1 1231.3,842.3 1233.7,841 1235.1,840.3 1238.9,838 1242.7,835.6 1246.5,833.3 1248.8,832 1250.3,831.2 1254.1,829.1 1256.3,828.2 1257.9,827.7 1261.7,826.6 1265.5,825.7 1269.3,825 1271.1,824.8 1273.1,824.6 1276.9,824.2 1280.7,823.8 1284.5,823.5 1288.3,823.3 1292.1,823.1 1296,823 1297.2,823 1299.8,823 1303.6,823.1 1307.4,823.2 1311.2,823.4 1313.2,823.5 1315,823.6 1318.8,824.1 1321.2,824.5 1322.6,824.8 1326.4,825.6 1328.3,826.2 1330.2,826.9 1334,828.8 1335.8,829.9 1337.8,831.3 1341.6,834.9 1345.4,838.7 1347.8,840.9 1349.2,842.1 1353,845.2 1356.8,848.1 1357.9,848.9 1360.6,851 1364.5,853.7 1367.8,855.9 1368.3,856.2 1372.1,858.4 1375.9,860.5 1377.9,861.5 1379.7,862.4 1383.5,864.2 1387.3,865.7 1387.9,865.9 1391.1,867.1 1394.9,868.3 1398.7,869.5 1402.5,870.6 1406.3,871.6 1407.9,871.9 1410.1,872.4 1413.9,873.2 1417.7,873.9 1421.5,874.6 1425.3,875.2 1427.9,875.6 1429.1,875.8 1433,876.3 1436.8,876.8 1440.6,877.2 1444.4,877.6 1448,878 1448.2,878 1452,878.3 1455.8,878.6 1459.6,878.9 1463.4,879.1 1467.2,879.4 1471,879.6 1474.8,879.8 1478.6,880 1482.4,880.3 1486.2,880.5 1488,880.6 1490,880.7 1493.8,880.9 1497.6,881.1 1501.5,881.4 1505.3,881.6 1509.1,881.8 1512.9,882 1516.7,882.2 1520.5,882.4 1524.3,882.6 1528.1,882.7 1531.9,882.9 1535.7,883.1" stroke="#ffb360"/>
<path d="M1120.9,882.7L1124.7,881.5 1128.5,880.3 1132.3,879.1 1136.1,877.8 1139.9,876.5 1143.7,875.1 1147.5,873.7 1151.3,872.3 1155.1,870.9 1158.5,869.6 1159,869.4 1162.8,867.9 1166.6,866.3 1170.4,864.7 1174.2,863.1 1178,861.4 1181.8,859.7 1185.6,858 1189.4,856.2 1193.2,854.4 1196.1,853 1197,852.6 1200.8,850.8 1204.6,848.9 1208.4,847 1212.2,845 1216,843.1 1219.8,841.1 1223.6,839 1227.5,837 1231.3,834.9 1233.7,833.5 1235.1,832.7 1238.9,830.5 1242.7,828.2 1246.5,825.9 1248.8,824.5 1250.3,823.6 1254.1,821.1 1256.3,820 1257.9,819.2 1261.7,817.6 1265.5,816.3 1269.3,815.1 1271.1,814.7 1273.1,814.3 1276.9,813.6 1280.7,813 1284.5,812.6 1285.2,812.5 1288.3,812.3 1292.1,812 1296,811.7 1299.8,811.6 1303.6,811.5 1305.2,811.5 1307.4,811.5 1311.2,811.6 1315,811.7 1318.8,812 1321.2,812.1 1322.6,812.3 1326.4,813 1328.3,813.4 1330.2,814.1 1334,816 1335.8,817 1337.8,818.3 1341.6,821.4 1345.4,824.6 1347.8,826.5 1349.2,827.5 1353,830.3 1356.8,832.8 1357.9,833.5 1360.6,835.4 1364.5,837.8 1367.8,839.5 1368.3,839.7 1372.1,841 1375.9,842.1 1377.9,842.5 1379.7,843 1383.5,843.8 1387.3,844.5 1387.9,844.5 1391.1,844.8 1394.9,844.9 1397.9,845.2 1398.7,845.3 1402.5,846.5 1403.9,847.1 1406.3,848.5 1410.1,851.3 1412,852.5 1413.9,853.7 1417.7,855.8 1421.5,857.7 1421.9,857.9 1425.3,859.7 1429.1,861.7 1433,863.5 1433.9,863.9 1436.8,865.1 1440.6,866.6 1444.4,868 1448,869.2 1448.2,869.2 1452,870.4 1455.8,871.5 1459.6,872.5 1463.4,873.5 1467.2,874.4 1467.9,874.6 1471,875.3 1474.8,876.1 1478.6,877 1482.4,877.7 1486.2,878.3 1488,878.6 1490,878.9 1493.8,879.4 1497.6,879.9 1501.5,880.3 1505.3,880.8 1509.1,881.2 1512.9,881.6 1516.7,882 1520.5,882.3 1524.3,882.6 1528.1,882.8 1531.9,883 1535.7,883.1" stroke="#80ffb4"/>
<path d="M1120.9,882.7L1124.7,881.4 1128.5,880.1 1132.3,878.7 1136.1,877.3 1139.9,875.8 1143.7,874.3 1147.5,872.7 1151.3,871.2 1155.1,869.5 1158.5,868.1 1159,867.9 1162.8,866.2 1166.6,864.4 1170.4,862.6 1174.2,860.7 1178,858.8 1181.8,856.8 1185.6,854.8 1189.4,852.8 1193.2,850.8 1196.1,849.3 1197,848.8 1200.8,846.8 1204.6,844.7 1208.4,842.7 1212.2,840.6 1216,838.5 1219.8,836.4 1223.6,834.2 1227.5,832 1231.3,829.7 1233.7,828.2 1235.1,827.4 1238.9,825 1242.7,822.5 1246.5,819.9 1248.8,818.5 1250.3,817.5 1254.1,815.1 1256.3,813.9 1257.9,813.1 1261.7,811.3 1265.5,809.7 1269.3,808.2 1271.1,807.5 1273.1,806.6 1276.9,805 1280.7,803.6 1284.5,802.5 1285.2,802.4 1288.3,801.8 1292.1,801.2 1296,800.7 1299.8,800.3 1303.6,800.1 1305.2,800.1 1307.4,800.1 1311.2,800.1 1315,800.1 1318.8,800.1 1322.6,800.1 1326.4,800.1 1328.3,800.1 1330.2,800.2 1334,800.4 1337.8,800.5 1337.8,800.5 1341.6,799.9 1342.8,799.8 1345.4,800.5 1347.8,801.8 1349.2,803.2 1353,809.2 1353.9,810.4 1356.8,814.8 1360.6,820.4 1363.8,824.5 1364.5,825.2 1368.3,829.2 1372.1,832.8 1373.9,834.5 1375.9,836.3 1379.7,839.9 1383.5,843.2 1383.9,843.5 1387.3,846.3 1391.1,849.3 1393.8,851.2 1394.9,851.9 1398.7,854.2 1402.5,856.4 1406.3,858.4 1407.9,859.1 1410.1,860.2 1413.9,861.8 1417.7,863.4 1421.5,864.9 1425.3,866.3 1427.9,867.2 1429.1,867.6 1433,868.9 1436.8,870.1 1440.6,871.3 1444.4,872.3 1448,873.2 1448.2,873.2 1452,874 1455.8,874.8 1459.6,875.4 1463.4,876.1 1467.2,876.7 1467.9,876.8 1471,877.3 1474.8,877.9 1478.6,878.4 1482.4,879 1486.2,879.4 1488,879.6 1490,879.8 1493.8,880.2 1497.6,880.6 1501.5,880.9 1505.3,881.3 1509.1,881.6 1512.9,881.9 1516.7,882.2 1520.5,882.4 1524.3,882.6 1528.1,882.8 1531.9,883 1535.7,883.1" stroke="#00b5eb"/>
<path d="M1120.9,882.7L1124.7,881.1 1128.5,879.4 1132.3,877.6 1136.1,875.8 1139.9,874 1143.7,872.1 1147.5,870.2 1151.3,868.2 1155.1,866.1 1158.5,864.3 1159,864.1 1162.8,861.9 1166.6,859.7 1170.4,857.4 1174.2,855.1 1178,852.7 1181.8,850.3 1185.6,847.8 1189.4,845.4 1193.2,842.9 1196.1,841 1197,840.4 1200.8,838 1204.6,835.5 1208.4,833 1212.2,830.5 1216,827.9 1219.8,825.3 1223.6,822.7 1227.5,820 1231.3,817.3 1233.7,815.5 1235.1,814.5 1238.9,811.5 1242.7,808.4 1246.5,805.3 1250.3,802.2 1254.1,799.1 1256.3,797.4 1257.9,796.1 1261.7,793 1265.5,790 1269.3,787.2 1271.1,786.1 1273.1,784.9 1276.9,782.9 1280.7,781 1284.5,779.2 1288.3,777.6 1291.1,776.5 1292.1,776 1296,774.6 1299.8,773.3 1303.6,772 1305.2,771.4 1307.4,770.5 1311.2,768.9 1314.2,768.4 1315,768.4 1318.2,768.9 1318.8,769.2 1322.2,773.5 1322.6,774 1326.2,781.3 1326.4,781.6 1328.3,784.3 1330.2,787.8 1334,795.9 1335.8,799.4 1337.8,803.3 1341.6,810 1343.8,813.4 1345.4,815.8 1349.2,820.9 1353,825.5 1353.9,826.5 1356.8,829.7 1360.6,833.6 1363.8,836.5 1364.5,837.1 1368.3,840.3 1372.1,843.2 1373.9,844.5 1375.9,845.8 1379.7,848.1 1383.5,850.3 1383.9,850.5 1387.3,852.6 1391.1,855 1393.8,856.6 1394.9,857.1 1398.7,859.1 1402.5,860.9 1406.3,862.5 1407.9,863.2 1410.1,864 1413.9,865.5 1417.7,866.8 1421.5,868 1425.3,869.2 1427.9,870 1429.1,870.3 1433,871.4 1436.8,872.4 1440.6,873.4 1444.4,874.3 1448,875 1448.2,875 1452,875.7 1455.8,876.3 1459.6,876.8 1463.4,877.4 1467.2,877.9 1471,878.4 1474.8,878.8 1478.6,879.2 1482.4,879.6 1486.2,879.9 1488,880.1 1490,880.3 1493.8,880.6 1497.6,880.9 1501.5,881.2 1505.3,881.5 1509.1,881.7 1512.9,882 1516.7,882.2 1520.5,882.5 1524.3,882.7 1528.1,882.8 1531.9,883 1535.7,883.1" stroke="#4062fa"/>
<path d="M1120.9,882.7L1124.7,879.7 1128.5,876.7 1132.3,873.7 1136.1,870.6 1139.9,867.5 1143.7,864.4 1147.5,861.3 1151.3,858.2 1155.1,855.1 1158.5,852.3 1159,851.9 1162.8,848.7 1166.6,845.6 1170.4,842.4 1174.2,839.2 1178,836 1181.8,832.8 1185.6,829.5 1189.4,826.1 1193.2,822.7 1196.1,820 1197,819.1 1200.8,815.5 1204.6,811.7 1208.4,807.8 1211.2,804.9 1212.2,803.8 1216,799.7 1219.8,795.5 1223.6,791.2 1227.5,786.8 1231.3,782.3 1233.7,779.4 1235.1,777.8 1238.9,773.2 1242.7,768.5 1246.5,763.6 1248.8,760.6 1250.3,758.6 1254.1,753.2 1256.3,750.1 1257.9,747.7 1261.7,742 1265.4,736.5 1265.5,736.4 1269.3,730.5 1273.1,724.5 1276.9,718.6 1280.7,713.3 1283.1,710.4 1284.5,708.6 1288.2,705.2 1288.3,705.2 1290.7,704.4 1292.1,704.9 1294.1,706.8 1296,710.2 1297.2,713.4 1299.8,722.6 1303.1,736.3 1303.6,737.7 1307.4,749.5 1309.2,754.3 1311.2,758.5 1315,765.8 1316.1,768.4 1318.8,776.4 1321.2,783.4 1322.6,786.1 1325.3,790.3 1326.4,791.8 1328.3,794.1 1330.2,797.6 1334,806.1 1335.8,809.5 1337.8,812.7 1341.6,817.7 1343.8,820.5 1345.4,822.6 1349.2,827.4 1353,831.6 1353.9,832.5 1356.8,835.1 1360.6,838.1 1363.8,840.5 1364.5,841 1368.3,843.9 1372.1,846.6 1373.9,847.9 1375.9,849.2 1379.7,851.5 1383.5,853.7 1383.9,853.9 1387.3,855.8 1391.1,857.8 1393.8,859.1 1394.9,859.6 1398.7,861.4 1402.5,863 1406.3,864.5 1407.9,865.1 1410.1,865.9 1413.9,867.3 1417.7,868.6 1421.5,869.8 1425.3,870.9 1427.9,871.6 1429.1,871.9 1433,872.8 1436.8,873.5 1440.6,874.3 1444.4,875 1448,875.6 1448.2,875.6 1452,876.2 1455.8,876.8 1459.6,877.4 1463.4,877.9 1467.2,878.3 1467.9,878.4 1471,878.7 1474.8,879.1 1478.6,879.5 1482.4,879.8 1486.2,880.1 1488,880.2 1490,880.4 1493.8,880.6 1497.6,880.9 1501.5,881.2 1505.3,881.4 1509.1,881.7 1512.9,881.9 1516.7,882.1 1520.5,882.4 1524.3,882.6 1528.1,882.8 1531.9,882.9 1535.7,883.1" stroke="#8000ff"/>
</g>
<path d="M1259.2,888.3 v-6.3 M1397.4,888.3 v-6.3 M1120.9,884.6 h6.3 M1120.9,809.5 h6.3 M1120.9,734.4 h6.3 M1120.9,659.3 h6.3 M1120.9,584.2 h6.3 M1120.9,509.1 h6.3" stroke="#686868" stroke-width="1.7" fill="none"/>
<rect x="1120.9" y="508.6" width="414.8" height="379.7" fill="none" stroke="#686868" stroke-width="2.5"/>
<text class="tk" x="1115.0" y="894.1" text-anchor="end">0.0</text>
<text class="tk" x="1115.0" y="819.0" text-anchor="end">0.2</text>
<text class="tk" x="1115.0" y="743.9" text-anchor="end">0.4</text>
<text class="tk" x="1115.0" y="668.8" text-anchor="end">0.6</text>
<text class="tk" x="1115.0" y="593.7" text-anchor="end">0.8</text>
<text class="tk" x="1115.0" y="518.6" text-anchor="end">1.0</text>
<text class="tk" x="1120.9" y="911.4" text-anchor="middle">0</text>
<text class="tk" x="1259.2" y="911.4" text-anchor="middle">1</text>
<text class="tk" x="1397.4" y="911.4" text-anchor="middle">2</text>
<text class="tk" x="1535.7" y="911.4" text-anchor="middle">3</text>
</g>
<g>
<g fill="none" stroke-width="2.30" stroke-linejoin="round" stroke-opacity="0.72">
<path d="M1619.3,882.7L1623.1,881.5 1626.9,880.1 1630.7,878.8 1634.5,877.4 1638.3,876 1642,874.6 1645.8,873.1 1649.6,871.6 1653.4,870.1 1656.5,868.8 1657.2,868.5 1661,866.9 1664.8,865.3 1668.6,863.7 1672.4,862 1676.2,860.2 1680,858.5 1683.7,856.7 1687.5,854.8 1691.3,852.9 1694.1,851.5 1695.1,851 1698.9,849 1702.7,846.9 1706.5,844.7 1710.3,842.5 1714.1,840.3 1717.9,838 1721.7,835.7 1724.1,834.2 1725.4,833.4 1729.2,831.1 1733,828.6 1736.8,826.2 1740.6,823.7 1744.4,821.4 1746.7,820 1748.2,819.1 1752,816.5 1755.8,814.3 1758.7,813.2 1759.6,813 1763.4,812.2 1767.1,811.6 1768.9,811.4 1770.9,811.1 1774.7,810.5 1778.5,809.9 1782.3,809.5 1786.1,809.2 1788.8,809.1 1789.9,809.1 1793.7,809.1 1797.5,809.2 1801.3,809.3 1805.1,809.4 1808.8,809.5 1808.8,809.5 1812.6,809.8 1816.4,810.2 1818.9,810.6 1820.2,810.9 1824,811.9 1825.9,812.5 1827.8,813.2 1831.6,815 1833.3,816.1 1835.4,817.7 1839.2,821.8 1843,826.4 1845.3,829.1 1846.7,830.6 1850.5,834.5 1854.3,838.2 1855.4,839.2 1858.1,841.5 1861.9,844.6 1865.3,847.2 1865.7,847.5 1869.5,850.3 1873.3,852.9 1875.3,854.2 1877.1,855.3 1880.9,857.4 1884.7,859.3 1885.3,859.6 1888.4,861.1 1892.2,862.7 1896,864.3 1899.8,865.7 1903.6,867.1 1905.2,867.6 1907.4,868.3 1911.2,869.4 1915,870.5 1918.8,871.4 1922.6,872.3 1925.1,872.8 1926.4,873.1 1930.1,873.7 1933.9,874.3 1937.7,874.8 1941.5,875.3 1945.2,875.8 1945.3,875.8 1949.1,876.3 1952.9,876.8 1956.7,877.2 1960.5,877.6 1964.3,878 1968.1,878.4 1971.8,878.8 1975.6,879.2 1979.4,879.5 1983.2,879.8 1985,880 1987,880.1 1990.8,880.4 1994.6,880.7 1998.4,881 2002.2,881.3 2006,881.6 2009.8,881.8 2013.5,882.1 2017.3,882.3 2021.1,882.5 2024.9,882.7 2028.7,882.9 2032.5,883.1" stroke="#ff0000"/>
<path d="M1619.3,882.7L1623.1,881.5 1626.9,880.1 1630.7,878.8 1634.5,877.4 1638.3,876 1642,874.6 1645.8,873.1 1649.6,871.6 1653.4,870.1 1656.5,868.8 1657.2,868.5 1661,866.9 1664.8,865.3 1668.6,863.7 1672.4,862 1676.2,860.2 1680,858.5 1683.7,856.7 1687.5,854.8 1691.3,852.9 1694.1,851.5 1695.1,851 1698.9,849 1702.7,846.9 1706.5,844.7 1710.3,842.5 1714.1,840.3 1717.9,838 1721.7,835.7 1724.1,834.2 1725.4,833.4 1729.2,831.1 1733,828.6 1736.8,826.2 1740.6,823.7 1744.4,821.4 1746.7,820 1748.2,819.1 1752,816.5 1755.8,814.3 1758.7,813.2 1759.6,813 1763.4,812.2 1767.1,811.6 1768.9,811.4 1770.9,811.2 1774.7,810.7 1778.5,810.4 1782.3,810.1 1786.1,809.9 1788.8,809.9 1789.9,809.9 1793.7,809.9 1797.5,810 1801.3,810 1805.1,810.1 1808.8,810.3 1808.8,810.3 1812.6,810.5 1816.4,811 1818.9,811.4 1820.2,811.6 1824,812.6 1825.9,813.3 1827.8,814 1831.6,815.8 1833.3,816.8 1835.4,818.4 1839.2,822.6 1843,827.2 1845.3,829.9 1846.7,831.3 1850.5,835.3 1854.3,839 1855.4,839.9 1858.1,842.3 1861.9,845.3 1865.3,847.9 1865.7,848.2 1869.5,851 1873.3,853.7 1875.3,854.9 1877.1,856 1880.9,858.1 1884.7,860.1 1885.3,860.3 1888.4,861.8 1892.2,863.5 1896,865 1899.8,866.5 1903.6,867.8 1905.2,868.3 1907.4,869 1911.2,870.2 1915,871.2 1918.8,872.2 1922.6,873.1 1925.1,873.6 1926.4,873.8 1930.1,874.5 1933.9,875.1 1937.7,875.6 1941.5,876.1 1945.2,876.6 1945.3,876.6 1949.1,877 1952.9,877.4 1956.7,877.7 1960.5,878.1 1964.3,878.4 1968.1,878.7 1971.8,879 1975.6,879.3 1979.4,879.6 1983.2,879.9 1985,880 1987,880.1 1990.8,880.4 1994.6,880.7 1998.4,881 2002.2,881.2 2006,881.5 2009.8,881.7 2013.5,882 2017.3,882.2 2021.1,882.4 2024.9,882.7 2028.7,882.9 2032.5,883.1" stroke="#ffb360"/>
<path d="M1619.3,882.7L1623.1,881.4 1626.9,880 1630.7,878.5 1634.5,877 1638.3,875.4 1642,873.8 1645.8,872.2 1649.6,870.5 1653.4,868.8 1656.5,867.3 1657.2,867 1661,865.2 1664.8,863.3 1668.6,861.3 1672.4,859.3 1676.2,857.3 1680,855.2 1683.7,853 1687.5,850.9 1691.3,848.6 1694.1,847 1695.1,846.4 1698.9,844.1 1702.7,841.7 1706.5,839.3 1710.3,836.8 1714.1,834.3 1717.9,831.7 1721.7,829.2 1724.1,827.5 1725.4,826.6 1729.2,824 1733,821.3 1736.8,818.6 1740.6,816 1744.4,813.3 1746.7,811.7 1748.2,810.6 1752,807.6 1755.8,804.9 1758.7,803.4 1759.6,803.1 1763.4,802 1767.1,801.1 1768.9,800.9 1770.9,800.6 1774.7,800.1 1778.5,799.6 1782.3,799.3 1786.1,799 1788.8,799 1789.9,799 1793.7,799 1797.5,799 1801.3,799 1805.1,799 1808.8,799 1808.8,799 1812.6,799.1 1816.4,799.5 1818.9,799.8 1820.2,800.1 1824,801 1825.9,801.6 1827.8,802.3 1831.6,804.3 1833.3,805.4 1835.4,806.9 1839.2,810.3 1843,814.2 1845.3,816.4 1846.7,817.8 1850.5,821.3 1854.3,824.7 1855.4,825.5 1858.1,827.7 1861.9,830.5 1865.3,832.5 1865.7,832.7 1869.5,834.1 1873.3,835.3 1875.3,835.8 1877.1,836.2 1880.9,837.2 1884.7,837.8 1885.3,837.9 1888.4,838.1 1892.2,838.3 1895.2,838.5 1896,838.6 1899.8,840.3 1901.2,841.1 1903.6,842.8 1907.4,846.1 1909.2,847.5 1911.2,848.9 1915,851.2 1918.8,853.3 1919.1,853.5 1922.6,855.5 1926.4,857.5 1930.1,859.5 1931.1,860 1933.9,861.4 1937.7,863.3 1941.5,865 1945.2,866.6 1945.3,866.6 1949.1,868.1 1952.9,869.4 1956.7,870.7 1960.5,871.9 1964.3,873 1965,873.2 1968.1,874 1971.8,874.9 1975.6,875.8 1979.4,876.6 1983.2,877.3 1985,877.6 1987,877.9 1990.8,878.5 1994.6,879.1 1998.4,879.6 2002.2,880.2 2006,880.7 2009.8,881.1 2013.5,881.6 2017.3,882 2021.1,882.3 2024.9,882.7 2028.7,882.9 2032.5,883.1" stroke="#80ffb4"/>
<path d="M1619.3,882.7L1623.1,881.2 1626.9,879.6 1630.7,878 1634.5,876.4 1638.3,874.7 1642,872.9 1645.8,871.1 1649.6,869.3 1653.4,867.4 1656.5,865.8 1657.2,865.5 1661,863.5 1664.8,861.4 1668.6,859.3 1672.4,857.2 1676.2,855 1680,852.7 1683.7,850.4 1687.5,848.1 1691.3,845.7 1694.1,844 1695.1,843.4 1698.9,840.9 1702.7,838.5 1706.5,835.9 1710.3,833.4 1714.1,830.8 1717.9,828.1 1721.7,825.5 1724.1,823.7 1725.4,822.8 1729.2,820.1 1733,817.3 1736.8,814.5 1740.6,811.7 1744.4,808.9 1746.7,807.2 1748.2,806 1752,802.8 1755.8,799.8 1758.7,798.2 1759.6,797.8 1763.4,796.6 1767.1,795.6 1768.9,795.2 1770.9,794.6 1774.7,793.4 1778.5,792.2 1782.3,791.1 1786.1,790.2 1788.8,789.8 1789.9,789.7 1793.7,789.3 1797.5,789 1801.3,788.7 1805.1,788.5 1808.8,788.5 1808.8,788.5 1812.6,788.5 1816.4,788.5 1820.2,788.6 1824,788.6 1825.9,788.7 1827.8,788.7 1831.6,788.7 1835.4,788.8 1839.2,788.8 1839.4,788.8 1843,789.7 1844.4,790.3 1846.7,792.3 1849.3,795.4 1850.5,797.1 1854.3,803.5 1855.4,805.4 1858.1,810.7 1861.3,816.4 1861.9,817.3 1865.7,821.7 1869.5,825.6 1871.4,827.5 1873.3,829.7 1877.1,834 1880.9,838.1 1881.3,838.5 1884.7,841.8 1888.4,845.3 1891.2,847.5 1892.2,848.3 1896,851 1899.8,853.4 1903.6,855.7 1905.2,856.6 1907.4,857.7 1911.2,859.6 1915,861.4 1918.8,863.1 1922.6,864.6 1925.1,865.6 1926.4,866 1930.1,867.3 1933.9,868.5 1937.7,869.6 1941.5,870.7 1945.2,871.6 1945.3,871.6 1949.1,872.5 1952.9,873.3 1956.7,874 1960.5,874.8 1964.3,875.5 1965,875.6 1968.1,876.1 1971.8,876.8 1975.6,877.4 1979.4,878 1983.2,878.6 1985,878.8 1987,879 1990.8,879.5 1994.6,879.9 1998.4,880.3 2002.2,880.7 2006,881.1 2009.8,881.5 2013.5,881.8 2017.3,882.2 2021.1,882.4 2024.9,882.7 2028.7,882.9 2032.5,883.1" stroke="#00b5eb"/>
<path d="M1619.3,882.7L1623.1,880.8 1626.9,878.9 1630.7,876.9 1634.5,874.8 1638.3,872.7 1642,870.6 1645.8,868.4 1649.6,866.2 1653.4,863.9 1656.5,862.1 1657.2,861.6 1661,859.3 1664.8,856.8 1668.6,854.4 1672.4,851.8 1676.2,849.2 1680,846.6 1683.7,843.9 1687.5,841.2 1691.3,838.5 1694.1,836.5 1695.1,835.7 1698.9,833 1702.7,830.1 1706.5,827.2 1710.3,824.3 1714.1,821.3 1717.9,818.3 1721.7,815.2 1724.1,813.2 1725.4,812.1 1729.2,809 1733,805.9 1736.8,802.7 1740.6,799.4 1744.4,795.9 1746.7,793.7 1748.2,792.1 1752,787.5 1755.8,783 1758.7,780.1 1759.6,779.4 1763.4,776.7 1767.1,774.3 1768.9,773.4 1770.9,772.3 1774.7,770.6 1778.5,769 1782.3,767.5 1786.1,766 1788.8,765 1789.9,764.6 1793.7,763.1 1797.5,761.7 1801.3,760.4 1802.9,759.7 1805.1,758.8 1808.8,757.1 1810.9,756.7 1812.6,756.8 1814.9,756.9 1816.4,757.7 1818.9,760.3 1820.2,762.3 1822.9,767.4 1824,769.7 1825.9,773.8 1827.8,778.3 1831.6,787.5 1833.3,791.5 1835.4,795.7 1839.2,802.8 1841.3,806.5 1843,809 1846.7,814.5 1850.5,819.4 1851.4,820.5 1854.3,824 1858.1,828.2 1861.3,831.5 1861.9,832.1 1865.7,835.9 1869.5,839.5 1871.4,841.1 1873.3,842.7 1877.1,845.6 1880.9,848.3 1881.3,848.6 1884.7,850.7 1888.4,853 1891.2,854.6 1892.2,855.1 1896,857.1 1899.8,859 1903.6,860.8 1905.2,861.5 1907.4,862.5 1911.2,864.1 1915,865.6 1918.8,867.1 1922.6,868.4 1925.1,869.2 1926.4,869.6 1930.1,870.7 1933.9,871.7 1937.7,872.6 1941.5,873.4 1945.2,874.2 1945.3,874.2 1949.1,874.9 1952.9,875.6 1956.7,876.3 1960.5,876.9 1964.3,877.5 1968.1,878.1 1971.8,878.6 1975.6,879.1 1979.4,879.5 1983.2,879.9 1985,880.1 1987,880.3 1990.8,880.6 1994.6,880.9 1998.4,881.3 2002.2,881.6 2006,881.8 2009.8,882.1 2013.5,882.3 2017.3,882.6 2021.1,882.7 2024.9,882.9 2028.7,883 2032.5,883.1" stroke="#4062fa"/>
<path d="M1619.3,882.7L1623.1,879.7 1626.9,876.6 1630.7,873.4 1634.5,870.2 1638.3,867 1642,863.7 1645.8,860.4 1649.6,857 1653.4,853.6 1656.5,850.8 1657.2,850.1 1661,846.6 1664.8,843.1 1668.6,839.5 1672.4,835.9 1676.2,832.3 1680,828.5 1683.7,824.7 1687.5,820.7 1691.1,817 1691.3,816.7 1695.1,812.5 1698.9,808.1 1702.7,803.6 1706.5,799 1709.1,795.9 1710.3,794.5 1714.1,789.9 1717.9,785.4 1721.7,780.8 1724.1,777.9 1725.4,776.3 1729.2,772.1 1733,767.8 1736.8,763.4 1739.1,760.6 1740.6,758.6 1744.4,753.4 1746.7,750.1 1748.2,747.9 1752,742.1 1754.1,738.8 1755.8,736.3 1759.6,730.5 1763.4,724.5 1767.1,718.6 1770.9,712.8 1774.7,707.3 1778.5,702.2 1780.9,699.2 1782.3,697.3 1785.3,694.4 1786.1,694.2 1788.4,693.8 1789.9,694.5 1791.9,696.9 1793.7,700.7 1794.9,704.4 1797.5,714.5 1800.8,729.3 1801.3,730.8 1805.1,743.6 1806.9,748.3 1808.8,751.5 1811.9,756.3 1812.6,758.3 1815.8,769.3 1816.4,771.2 1819.8,781.3 1820.2,782 1824,787.3 1825.9,790 1827.8,793.5 1831.6,801.3 1833.3,804.4 1835.4,807.6 1839.2,812.7 1841.3,815.5 1843,817.6 1846.7,822.3 1850.5,826.6 1851.4,827.5 1854.3,830.4 1858.1,833.7 1861.3,836.5 1861.9,837.1 1865.7,840.6 1869.5,844 1871.4,845.5 1873.3,847 1877.1,849.8 1880.9,852.3 1881.3,852.5 1884.7,854.4 1888.4,856.3 1891.2,857.6 1892.2,858.1 1896,859.8 1899.8,861.4 1903.6,862.9 1905.2,863.6 1907.4,864.4 1911.2,865.9 1915,867.3 1918.8,868.6 1922.6,869.8 1925.1,870.6 1926.4,870.9 1930.1,871.9 1933.9,872.9 1937.7,873.7 1941.5,874.5 1945.2,875.2 1945.3,875.2 1949.1,875.9 1952.9,876.4 1956.7,876.9 1960.5,877.4 1964.3,877.9 1965,878 1968.1,878.4 1971.8,878.8 1975.6,879.3 1979.4,879.7 1983.2,880.1 1985,880.2 1987,880.4 1990.8,880.7 1994.6,881 1998.4,881.3 2002.2,881.5 2006,881.8 2009.8,882.1 2013.5,882.3 2017.3,882.5 2021.1,882.7 2024.9,882.8 2028.7,883 2032.5,883.1" stroke="#8000ff"/>
</g>
<path d="M1757.0,888.3 v-6.3 M1894.8,888.3 v-6.3 M1619.3,884.6 h6.3 M1619.3,809.5 h6.3 M1619.3,734.4 h6.3 M1619.3,659.3 h6.3 M1619.3,584.2 h6.3 M1619.3,509.1 h6.3" stroke="#686868" stroke-width="1.7" fill="none"/>
<rect x="1619.3" y="508.6" width="413.2" height="379.7" fill="none" stroke="#686868" stroke-width="2.5"/>
<text class="tk" x="1613.4" y="894.1" text-anchor="end">0.0</text>
<text class="tk" x="1613.4" y="819.0" text-anchor="end">0.2</text>
<text class="tk" x="1613.4" y="743.9" text-anchor="end">0.4</text>
<text class="tk" x="1613.4" y="668.8" text-anchor="end">0.6</text>
<text class="tk" x="1613.4" y="593.7" text-anchor="end">0.8</text>
<text class="tk" x="1613.4" y="518.6" text-anchor="end">1.0</text>
<text class="tk" x="1619.3" y="911.4" text-anchor="middle">0</text>
<text class="tk" x="1757.0" y="911.4" text-anchor="middle">1</text>
<text class="tk" x="1894.8" y="911.4" text-anchor="middle">2</text>
<text class="tk" x="2032.5" y="911.4" text-anchor="middle">3</text>
</g>
<rect x="130.1" y="49.5" width="136.8" height="49.4" fill="#ebebeb"/>
<text transform="translate(144.72,85.40) scale(0.8550,1)" font-family="'Liberation Serif','DejaVu Serif',serif" font-size="30.5" font-style="italic" fill="#111" stroke="#111" stroke-width="0.40">V</text>
<text transform="translate(157.67,91.10) scale(1.2343,1)" font-family="'Liberation Serif','DejaVu Serif',serif" font-size="22.5" font-style="italic" fill="#111" stroke="#111" stroke-width="0.20">e</text>
<text transform="translate(177.83,85.20) scale(1.3786,0.76)" font-family="'Liberation Serif','DejaVu Serif',serif" font-size="30" font-style="normal" fill="#111" stroke="#111" stroke-width="0.90">=</text>
<text transform="translate(208.69,85.40) scale(1.0500,1)" font-family="'Liberation Serif','DejaVu Serif',serif" font-size="30.5" font-style="normal" fill="#111" stroke="#111" stroke-width="0.40">0</text>
<text transform="translate(232.34,85.40) scale(0.8400,1)" font-family="'Liberation Serif','DejaVu Serif',serif" font-size="30.5" font-style="italic" fill="#111" stroke="#111" stroke-width="0.40">V</text>
<rect x="629.2" y="49.5" width="136.8" height="49.4" fill="#ebebeb"/>
<text transform="translate(642.82,85.40) scale(0.8550,1)" font-family="'Liberation Serif','DejaVu Serif',serif" font-size="30.5" font-style="italic" fill="#111" stroke="#111" stroke-width="0.40">V</text>
<text transform="translate(655.77,91.10) scale(1.2343,1)" font-family="'Liberation Serif','DejaVu Serif',serif" font-size="22.5" font-style="italic" fill="#111" stroke="#111" stroke-width="0.20">e</text>
<text transform="translate(675.93,85.20) scale(1.3786,0.76)" font-family="'Liberation Serif','DejaVu Serif',serif" font-size="30" font-style="normal" fill="#111" stroke="#111" stroke-width="0.90">=</text>
<text transform="translate(706.27,85.40) scale(1.0500,1)" font-family="'Liberation Serif','DejaVu Serif',serif" font-size="30.5" font-style="normal" fill="#111" stroke="#111" stroke-width="0.40">1</text>
<text transform="translate(730.44,85.40) scale(0.8400,1)" font-family="'Liberation Serif','DejaVu Serif',serif" font-size="30.5" font-style="italic" fill="#111" stroke="#111" stroke-width="0.40">V</text>
<rect x="1126.0" y="49.5" width="136.8" height="49.4" fill="#ebebeb"/>
<text transform="translate(1140.62,85.40) scale(0.8550,1)" font-family="'Liberation Serif','DejaVu Serif',serif" font-size="30.5" font-style="italic" fill="#111" stroke="#111" stroke-width="0.40">V</text>
<text transform="translate(1153.57,91.10) scale(1.2343,1)" font-family="'Liberation Serif','DejaVu Serif',serif" font-size="22.5" font-style="italic" fill="#111" stroke="#111" stroke-width="0.20">e</text>
<text transform="translate(1173.73,85.20) scale(1.3786,0.76)" font-family="'Liberation Serif','DejaVu Serif',serif" font-size="30" font-style="normal" fill="#111" stroke="#111" stroke-width="0.90">=</text>
<text transform="translate(1204.86,85.40) scale(1.0500,1)" font-family="'Liberation Serif','DejaVu Serif',serif" font-size="30.5" font-style="normal" fill="#111" stroke="#111" stroke-width="0.40">2</text>
<text transform="translate(1228.24,85.40) scale(0.8400,1)" font-family="'Liberation Serif','DejaVu Serif',serif" font-size="30.5" font-style="italic" fill="#111" stroke="#111" stroke-width="0.40">V</text>
<rect x="1624.8" y="49.5" width="136.8" height="49.4" fill="#ebebeb"/>
<text transform="translate(1639.92,85.40) scale(0.8550,1)" font-family="'Liberation Serif','DejaVu Serif',serif" font-size="30.5" font-style="italic" fill="#111" stroke="#111" stroke-width="0.40">V</text>
<text transform="translate(1652.87,91.10) scale(1.2343,1)" font-family="'Liberation Serif','DejaVu Serif',serif" font-size="22.5" font-style="italic" fill="#111" stroke="#111" stroke-width="0.20">e</text>
<text transform="translate(1673.03,85.20) scale(1.3786,0.76)" font-family="'Liberation Serif','DejaVu Serif',serif" font-size="30" font-style="normal" fill="#111" stroke="#111" stroke-width="0.90">=</text>
<text transform="translate(1703.76,85.40) scale(1.0500,1)" font-family="'Liberation Serif','DejaVu Serif',serif" font-size="30.5" font-style="normal" fill="#111" stroke="#111" stroke-width="0.40">3</text>
<text transform="translate(1727.54,85.40) scale(0.8400,1)" font-family="'Liberation Serif','DejaVu Serif',serif" font-size="30.5" font-style="italic" fill="#111" stroke="#111" stroke-width="0.40">V</text>
<rect x="129.5" y="514.6" width="136.8" height="49.4" fill="#ebebeb"/>
<text transform="translate(144.12,550.50) scale(0.8550,1)" font-family="'Liberation Serif','DejaVu Serif',serif" font-size="30.5" font-style="italic" fill="#111" stroke="#111" stroke-width="0.40">V</text>
<text transform="translate(157.07,556.20) scale(1.2343,1)" font-family="'Liberation Serif','DejaVu Serif',serif" font-size="22.5" font-style="italic" fill="#111" stroke="#111" stroke-width="0.20">e</text>
<text transform="translate(177.23,550.30) scale(1.3786,0.76)" font-family="'Liberation Serif','DejaVu Serif',serif" font-size="30" font-style="normal" fill="#111" stroke="#111" stroke-width="0.90">=</text>
<text transform="translate(208.09,550.50) scale(1.0500,1)" font-family="'Liberation Serif','DejaVu Serif',serif" font-size="30.5" font-style="normal" fill="#111" stroke="#111" stroke-width="0.40">0</text>
<text transform="translate(231.74,550.50) scale(0.8400,1)" font-family="'Liberation Serif','DejaVu Serif',serif" font-size="30.5" font-style="italic" fill="#111" stroke="#111" stroke-width="0.40">V</text>
<rect x="629.2" y="514.6" width="136.8" height="49.4" fill="#ebebeb"/>
<text transform="translate(642.82,550.50) scale(0.8550,1)" font-family="'Liberation Serif','DejaVu Serif',serif" font-size="30.5" font-style="italic" fill="#111" stroke="#111" stroke-width="0.40">V</text>
<text transform="translate(655.77,556.20) scale(1.2343,1)" font-family="'Liberation Serif','DejaVu Serif',serif" font-size="22.5" font-style="italic" fill="#111" stroke="#111" stroke-width="0.20">e</text>
<text transform="translate(675.93,550.30) scale(1.3786,0.76)" font-family="'Liberation Serif','DejaVu Serif',serif" font-size="30" font-style="normal" fill="#111" stroke="#111" stroke-width="0.90">=</text>
<text transform="translate(706.27,550.50) scale(1.0500,1)" font-family="'Liberation Serif','DejaVu Serif',serif" font-size="30.5" font-style="normal" fill="#111" stroke="#111" stroke-width="0.40">1</text>
<text transform="translate(730.44,550.50) scale(0.8400,1)" font-family="'Liberation Serif','DejaVu Serif',serif" font-size="30.5" font-style="italic" fill="#111" stroke="#111" stroke-width="0.40">V</text>
<rect x="1125.6" y="514.6" width="136.8" height="49.4" fill="#ebebeb"/>
<text transform="translate(1140.22,550.50) scale(0.8550,1)" font-family="'Liberation Serif','DejaVu Serif',serif" font-size="30.5" font-style="italic" fill="#111" stroke="#111" stroke-width="0.40">V</text>
<text transform="translate(1153.17,556.20) scale(1.2343,1)" font-family="'Liberation Serif','DejaVu Serif',serif" font-size="22.5" font-style="italic" fill="#111" stroke="#111" stroke-width="0.20">e</text>
<text transform="translate(1173.33,550.30) scale(1.3786,0.76)" font-family="'Liberation Serif','DejaVu Serif',serif" font-size="30" font-style="normal" fill="#111" stroke="#111" stroke-width="0.90">=</text>
<text transform="translate(1204.46,550.50) scale(1.0500,1)" font-family="'Liberation Serif','DejaVu Serif',serif" font-size="30.5" font-style="normal" fill="#111" stroke="#111" stroke-width="0.40">2</text>
<text transform="translate(1227.84,550.50) scale(0.8400,1)" font-family="'Liberation Serif','DejaVu Serif',serif" font-size="30.5" font-style="italic" fill="#111" stroke="#111" stroke-width="0.40">V</text>
<rect x="1624.8" y="514.6" width="136.8" height="49.4" fill="#ebebeb"/>
<text transform="translate(1639.92,550.50) scale(0.8550,1)" font-family="'Liberation Serif','DejaVu Serif',serif" font-size="30.5" font-style="italic" fill="#111" stroke="#111" stroke-width="0.40">V</text>
<text transform="translate(1652.87,556.20) scale(1.2343,1)" font-family="'Liberation Serif','DejaVu Serif',serif" font-size="22.5" font-style="italic" fill="#111" stroke="#111" stroke-width="0.20">e</text>
<text transform="translate(1673.03,550.30) scale(1.3786,0.76)" font-family="'Liberation Serif','DejaVu Serif',serif" font-size="30" font-style="normal" fill="#111" stroke="#111" stroke-width="0.90">=</text>
<text transform="translate(1703.76,550.50) scale(1.0500,1)" font-family="'Liberation Serif','DejaVu Serif',serif" font-size="30.5" font-style="normal" fill="#111" stroke="#111" stroke-width="0.40">3</text>
<text transform="translate(1727.54,550.50) scale(0.8400,1)" font-family="'Liberation Serif','DejaVu Serif',serif" font-size="30.5" font-style="italic" fill="#111" stroke="#111" stroke-width="0.40">V</text>
<rect x="299.2" y="52.6" width="230.8" height="236.6" rx="5.5" ry="5.5" fill="#ffffff" fill-opacity="0.8" stroke="#cccccc" stroke-opacity="0.85" stroke-width="1.8"/>
<path d="M308.2,73.4 H359.7" stroke="#ff0000" stroke-opacity="0.72" stroke-width="2.30" fill="none"/>
<text class="lg" x="379.4" y="82.2"><tspan font-style="italic">L</tspan><tspan font-style="italic" font-size="17.2" dy="4">i</tspan><tspan dy="-4">=1850nm</tspan></text>
<path d="M308.2,112.0 H359.7" stroke="#ffb360" stroke-opacity="0.72" stroke-width="2.30" fill="none"/>
<text class="lg" x="379.4" y="119.4"><tspan font-style="italic">L</tspan><tspan font-style="italic" font-size="17.2" dy="4">i</tspan><tspan dy="-4">=1450nm</tspan></text>
<path d="M308.2,150.5 H359.7" stroke="#80ffb4" stroke-opacity="0.72" stroke-width="2.30" fill="none"/>
<text class="lg" x="379.4" y="157.9"><tspan font-style="italic">L</tspan><tspan font-style="italic" font-size="17.2" dy="4">i</tspan><tspan dy="-4">=1050nm</tspan></text>
<path d="M308.2,189.1 H359.7" stroke="#00b5eb" stroke-opacity="0.72" stroke-width="2.30" fill="none"/>
<text class="lg" x="379.4" y="196.5"><tspan font-style="italic">L</tspan><tspan font-style="italic" font-size="17.2" dy="4">i</tspan><tspan dy="-4">=650nm</tspan></text>
<path d="M308.2,227.6 H359.7" stroke="#4062fa" stroke-opacity="0.72" stroke-width="2.30" fill="none"/>
<text class="lg" x="379.4" y="235.0"><tspan font-style="italic">L</tspan><tspan font-style="italic" font-size="17.2" dy="4">i</tspan><tspan dy="-4">=450nm</tspan></text>
<path d="M308.2,266.1 H359.7" stroke="#8000ff" stroke-opacity="0.72" stroke-width="2.30" fill="none"/>
<text class="lg" x="379.4" y="273.5"><tspan font-style="italic">L</tspan><tspan font-style="italic" font-size="17.2" dy="4">i</tspan><tspan dy="-4">=250nm</tspan></text>
<rect x="1787.2" y="51.5" width="242.2" height="78.8" fill="#e2f0d9" stroke="#1a1a1a" stroke-width="1.8"/>
<text transform="translate(1794.13,80.70) scale(0.9189,1)" font-family="'Liberation Serif','DejaVu Serif',serif" font-size="25.6" font-style="italic" fill="#111" stroke="#111" stroke-width="0.40">N</text>
<text transform="translate(1812.01,85.70) scale(1.1100,1)" font-family="'Liberation Serif','DejaVu Serif',serif" font-size="19.4" font-style="italic" fill="#111" stroke="#111" stroke-width="0.40">p</text>
<text transform="translate(1831.34,80.10) scale(1.4917,0.8)" font-family="'Liberation Serif','DejaVu Serif',serif" font-size="25.6" font-style="normal" fill="#111" stroke="#111" stroke-width="0.80">=</text>
<text transform="translate(1858.68,80.70) scale(1.1222,1)" font-family="'Liberation Serif','DejaVu Serif',serif" font-size="25.6" font-style="normal" fill="#111" stroke="#111" stroke-width="0.40">1</text>
<text transform="translate(1880.10,82.70) scale(0.9862,1)" font-family="'DejaVu Sans','Liberation Sans',sans-serif" font-size="26" font-style="normal" fill="#111">×</text>
<text transform="translate(1906.12,80.70) scale(1.0578,1)" font-family="'Liberation Serif','DejaVu Serif',serif" font-size="25.6" font-style="normal" fill="#111" stroke="#111" stroke-width="0.40">10</text>
<text transform="translate(1937.10,71.70) scale(1.0882,1)" font-family="'Liberation Serif','DejaVu Serif',serif" font-size="19.4" font-style="normal" fill="#111" stroke="#111" stroke-width="0.40">18</text>
<text transform="translate(1968.44,80.70) scale(1.0633,1)" font-family="'Liberation Serif','DejaVu Serif',serif" font-size="25.6" font-style="normal" fill="#111" stroke="#111" stroke-width="0.40">cm</text>
<text transform="translate(2005.72,71.70) scale(1.0789,1)" font-family="'Liberation Serif','DejaVu Serif',serif" font-size="19.4" font-style="normal" fill="#111" stroke="#111" stroke-width="0.40">−3</text>
<text transform="translate(1798.23,120.00) scale(0.9297,1)" font-family="'Liberation Serif','DejaVu Serif',serif" font-size="25.6" font-style="italic" fill="#111" stroke="#111" stroke-width="0.40">N</text>
<text transform="translate(1815.28,125.60) scale(1.1200,1)" font-family="'Liberation Serif','DejaVu Serif',serif" font-size="19.4" font-style="italic" fill="#111" stroke="#111" stroke-width="0.40">i</text>
<text transform="translate(1830.11,119.40) scale(1.4333,0.8)" font-family="'Liberation Serif','DejaVu Serif',serif" font-size="25.6" font-style="normal" fill="#111" stroke="#111" stroke-width="0.80">=</text>
<text transform="translate(1858.80,120.00) scale(1.0634,1)" font-family="'Liberation Serif','DejaVu Serif',serif" font-size="25.6" font-style="normal" fill="#111" stroke="#111" stroke-width="0.40">5</text>
<text transform="translate(1880.10,122.00) scale(0.9862,1)" font-family="'DejaVu Sans','Liberation Sans',sans-serif" font-size="26" font-style="normal" fill="#111">×</text>
<text transform="translate(1906.12,120.00) scale(1.0578,1)" font-family="'Liberation Serif','DejaVu Serif',serif" font-size="25.6" font-style="normal" fill="#111" stroke="#111" stroke-width="0.40">10</text>
<text transform="translate(1935.94,111.00) scale(1.0059,1)" font-family="'Liberation Serif','DejaVu Serif',serif" font-size="19.4" font-style="normal" fill="#111" stroke="#111" stroke-width="0.40">15</text>
<text transform="translate(1967.14,120.00) scale(1.0633,1)" font-family="'Liberation Serif','DejaVu Serif',serif" font-size="25.6" font-style="normal" fill="#111" stroke="#111" stroke-width="0.40">cm</text>
<text transform="translate(2002.95,111.00) scale(1.1474,1)" font-family="'Liberation Serif','DejaVu Serif',serif" font-size="19.4" font-style="normal" fill="#111" stroke="#111" stroke-width="0.40">−3</text>
<rect x="1785.6" y="516.9" width="242.2" height="78.8" fill="#ffecb9" stroke="#1a1a1a" stroke-width="1.8"/>
<text transform="translate(1792.53,546.10) scale(0.9189,1)" font-family="'Liberation Serif','DejaVu Serif',serif" font-size="25.6" font-style="italic" fill="#111" stroke="#111" stroke-width="0.40">N</text>
<text transform="translate(1810.41,551.10) scale(1.1100,1)" font-family="'Liberation Serif','DejaVu Serif',serif" font-size="19.4" font-style="italic" fill="#111" stroke="#111" stroke-width="0.40">p</text>
<text transform="translate(1829.74,545.50) scale(1.4917,0.8)" font-family="'Liberation Serif','DejaVu Serif',serif" font-size="25.6" font-style="normal" fill="#111" stroke="#111" stroke-width="0.80">=</text>
<text transform="translate(1857.08,546.10) scale(1.1222,1)" font-family="'Liberation Serif','DejaVu Serif',serif" font-size="25.6" font-style="normal" fill="#111" stroke="#111" stroke-width="0.40">1</text>
<text transform="translate(1878.50,548.10) scale(0.9862,1)" font-family="'DejaVu Sans','Liberation Sans',sans-serif" font-size="26" font-style="normal" fill="#111">×</text>
<text transform="translate(1904.52,546.10) scale(1.0578,1)" font-family="'Liberation Serif','DejaVu Serif',serif" font-size="25.6" font-style="normal" fill="#111" stroke="#111" stroke-width="0.40">10</text>
<text transform="translate(1935.50,537.10) scale(1.0882,1)" font-family="'Liberation Serif','DejaVu Serif',serif" font-size="19.4" font-style="normal" fill="#111" stroke="#111" stroke-width="0.40">17</text>
<text transform="translate(1966.84,546.10) scale(1.0633,1)" font-family="'Liberation Serif','DejaVu Serif',serif" font-size="25.6" font-style="normal" fill="#111" stroke="#111" stroke-width="0.40">cm</text>
<text transform="translate(2004.12,537.10) scale(1.0789,1)" font-family="'Liberation Serif','DejaVu Serif',serif" font-size="19.4" font-style="normal" fill="#111" stroke="#111" stroke-width="0.40">−3</text>
<text transform="translate(1796.63,585.40) scale(0.9297,1)" font-family="'Liberation Serif','DejaVu Serif',serif" font-size="25.6" font-style="italic" fill="#111" stroke="#111" stroke-width="0.40">N</text>
<text transform="translate(1813.68,591.00) scale(1.1200,1)" font-family="'Liberation Serif','DejaVu Serif',serif" font-size="19.4" font-style="italic" fill="#111" stroke="#111" stroke-width="0.40">i</text>
<text transform="translate(1828.51,584.80) scale(1.4333,0.8)" font-family="'Liberation Serif','DejaVu Serif',serif" font-size="25.6" font-style="normal" fill="#111" stroke="#111" stroke-width="0.80">=</text>
<text transform="translate(1857.20,585.40) scale(1.0634,1)" font-family="'Liberation Serif','DejaVu Serif',serif" font-size="25.6" font-style="normal" fill="#111" stroke="#111" stroke-width="0.40">5</text>
<text transform="translate(1878.50,587.40) scale(0.9862,1)" font-family="'DejaVu Sans','Liberation Sans',sans-serif" font-size="26" font-style="normal" fill="#111">×</text>
<text transform="translate(1904.52,585.40) scale(1.0578,1)" font-family="'Liberation Serif','DejaVu Serif',serif" font-size="25.6" font-style="normal" fill="#111" stroke="#111" stroke-width="0.40">10</text>
<text transform="translate(1934.34,576.40) scale(1.0059,1)" font-family="'Liberation Serif','DejaVu Serif',serif" font-size="19.4" font-style="normal" fill="#111" stroke="#111" stroke-width="0.40">15</text>
<text transform="translate(1965.54,585.40) scale(1.0633,1)" font-family="'Liberation Serif','DejaVu Serif',serif" font-size="25.6" font-style="normal" fill="#111" stroke="#111" stroke-width="0.40">cm</text>
<text transform="translate(2001.35,576.40) scale(1.1474,1)" font-family="'Liberation Serif','DejaVu Serif',serif" font-size="19.4" font-style="normal" fill="#111" stroke="#111" stroke-width="0.40">−3</text>
<text transform="translate(878.11,987.60) scale(1.0098,1)" font-family="'Liberation Sans','DejaVu Sans',sans-serif" font-size="47.2" font-style="normal" fill="#000">Nanowire</text>
<text transform="translate(1094.57,987.60) scale(0.9249,1)" font-family="'Liberation Sans','DejaVu Sans',sans-serif" font-size="47.2" font-style="normal" fill="#000">Axis</text>
<text transform="translate(1191.93,985.40) scale(0.8526,1)" font-family="'Liberation Sans','DejaVu Sans',sans-serif" font-size="47.2" font-style="normal" fill="#000">[</text>
<text transform="translate(1205.96,987.60) scale(1.0274,1)" font-family="'Liberation Sans','DejaVu Sans',sans-serif" font-size="47.2" font-style="normal" fill="#000">µm</text>
<text transform="translate(1277.99,985.40) scale(0.8526,1)" font-family="'Liberation Sans','DejaVu Sans',sans-serif" font-size="47.2" font-style="normal" fill="#000">]</text>
<text transform="translate(36.50,862.16) rotate(-90) scale(0.9619,1)" font-family="'Liberation Sans','DejaVu Sans',sans-serif" font-size="47.2" font-style="normal" fill="#000">Spatial</text>
<text transform="translate(36.50,707.99) rotate(-90) scale(1.0109,1)" font-family="'Liberation Sans','DejaVu Sans',sans-serif" font-size="47.2" font-style="normal" fill="#000">Photon</text>
<text transform="translate(36.50,544.72) rotate(-90) scale(1.0177,1)" font-family="'Liberation Sans','DejaVu Sans',sans-serif" font-size="47.2" font-style="normal" fill="#000">Detection</text>
<text transform="translate(36.50,328.86) rotate(-90) scale(0.9749,1)" font-family="'Liberation Sans','DejaVu Sans',sans-serif" font-size="47.2" font-style="normal" fill="#000">Efficiency</text>
<text transform="translate(35.30,117.67) rotate(-90) scale(0.8211,1)" font-family="'Liberation Sans','DejaVu Sans',sans-serif" font-size="47.2" font-style="normal" fill="#000">[</text>
<text transform="translate(36.50,103.91) rotate(-90) scale(0.9532,1)" font-family="'Liberation Sans','DejaVu Sans',sans-serif" font-size="47.2" font-style="normal" fill="#000">-</text>
<text transform="translate(35.30,85.61) rotate(-90) scale(0.8211,1)" font-family="'Liberation Sans','DejaVu Sans',sans-serif" font-size="47.2" font-style="normal" fill="#000">]</text>
</svg></body></html>
